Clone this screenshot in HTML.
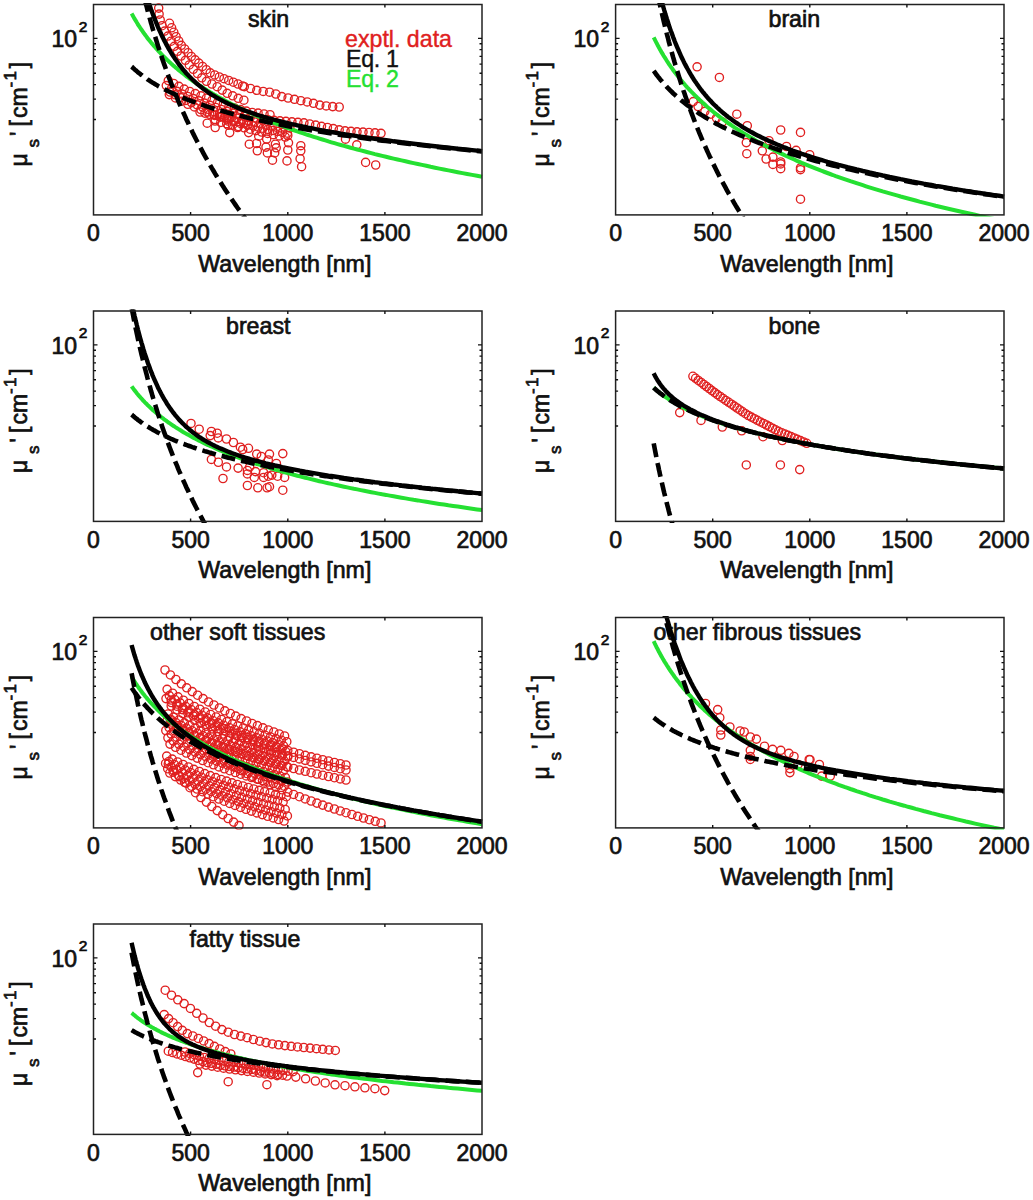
<!DOCTYPE html>
<html><head><meta charset="utf-8"><style>
html,body{margin:0;padding:0;background:#fff;}
svg{display:block;}
text{stroke:#111;stroke-width:0.7px;}
.t{font-family:"Liberation Sans", sans-serif;font-size:23px;fill:#111;}
.xl{font-family:"Liberation Sans", sans-serif;font-size:23.2px;fill:#111;}
.yl{font-family:"Liberation Sans", sans-serif;font-size:25px;fill:#111;}
.s{font-family:"Liberation Sans", sans-serif;font-size:17px;}
</style></head><body>
<svg width="1033" height="1200" viewBox="0 0 1033 1200">
<defs><clipPath id="c00"><rect x="92.5" y="3.0" width="390.5" height="213.4"/></clipPath><clipPath id="c01"><rect x="614.6" y="3.0" width="390.4" height="213.4"/></clipPath><clipPath id="c10"><rect x="92.5" y="309.5" width="390.5" height="213.39999999999998"/></clipPath><clipPath id="c11"><rect x="614.6" y="309.5" width="390.4" height="213.39999999999998"/></clipPath><clipPath id="c20"><rect x="92.5" y="616.0" width="390.5" height="213.39999999999998"/></clipPath><clipPath id="c21"><rect x="614.6" y="616.0" width="390.4" height="213.39999999999998"/></clipPath><clipPath id="c30"><rect x="92.5" y="922.5" width="390.5" height="213.4000000000001"/></clipPath></defs>
<rect width="1033" height="1200" fill="#fff"/>
<text x="248.0" y="27.1" class="xl">skin</text>
<g clip-path="url(#c00)">
<g fill="none" stroke="#e02020" stroke-width="1.35"><circle cx="169.5" cy="23.3" r="4.1"/><circle cx="171.6" cy="27.8" r="4.1"/><circle cx="173.8" cy="32.3" r="4.1"/><circle cx="176.1" cy="36.7" r="4.1"/><circle cx="178.7" cy="41.0" r="4.1"/><circle cx="181.3" cy="45.3" r="4.1"/><circle cx="184.6" cy="49.0" r="4.1"/><circle cx="188.0" cy="52.7" r="4.1"/><circle cx="191.3" cy="56.4" r="4.1"/><circle cx="195.1" cy="59.8" r="4.1"/><circle cx="198.8" cy="63.1" r="4.1"/><circle cx="202.5" cy="66.4" r="4.1"/><circle cx="206.3" cy="69.7" r="4.1"/><circle cx="210.2" cy="72.8" r="4.1"/><circle cx="214.7" cy="74.9" r="4.1"/><circle cx="219.3" cy="76.9" r="4.1"/><circle cx="224.0" cy="78.7" r="4.1"/><circle cx="228.7" cy="80.4" r="4.1"/><circle cx="233.3" cy="82.2" r="4.1"/><circle cx="238.0" cy="84.0" r="4.1"/><circle cx="242.6" cy="86.0" r="4.1"/><circle cx="244.3" cy="86.7" r="4.1"/><circle cx="250.5" cy="88.5" r="4.1"/><circle cx="256.8" cy="90.3" r="4.1"/><circle cx="263.2" cy="91.4" r="4.1"/><circle cx="269.6" cy="92.2" r="4.1"/><circle cx="275.8" cy="94.0" r="4.1"/><circle cx="281.8" cy="96.6" r="4.1"/><circle cx="288.1" cy="98.0" r="4.1"/><circle cx="294.5" cy="99.3" r="4.1"/><circle cx="300.8" cy="100.7" r="4.1"/><circle cx="307.2" cy="101.9" r="4.1"/><circle cx="313.5" cy="103.3" r="4.1"/><circle cx="319.8" cy="105.1" r="4.1"/><circle cx="326.2" cy="105.9" r="4.1"/><circle cx="332.7" cy="106.6" r="4.1"/><circle cx="339.2" cy="107.0" r="4.1"/><circle cx="158.7" cy="8.1" r="4.1"/><circle cx="159.1" cy="14.1" r="4.1"/><circle cx="160.2" cy="20.0" r="4.1"/><circle cx="162.1" cy="25.7" r="4.1"/><circle cx="164.6" cy="31.1" r="4.1"/><circle cx="167.9" cy="36.1" r="4.1"/><circle cx="171.1" cy="41.2" r="4.1"/><circle cx="174.3" cy="46.3" r="4.1"/><circle cx="177.5" cy="51.3" r="4.1"/><circle cx="181.1" cy="56.0" r="4.1"/><circle cx="185.4" cy="60.3" r="4.1"/><circle cx="189.3" cy="64.9" r="4.1"/><circle cx="193.3" cy="69.3" r="4.1"/><circle cx="197.5" cy="73.5" r="4.1"/><circle cx="201.8" cy="77.8" r="4.1"/><circle cx="206.5" cy="81.3" r="4.1"/><circle cx="211.9" cy="84.0" r="4.1"/><circle cx="217.2" cy="86.7" r="4.1"/><circle cx="222.2" cy="90.1" r="4.1"/><circle cx="227.2" cy="93.3" r="4.1"/><circle cx="232.7" cy="95.8" r="4.1"/><circle cx="238.2" cy="98.3" r="4.1"/><circle cx="243.9" cy="100.2" r="4.1"/><circle cx="166.3" cy="85.6" r="4.1"/><circle cx="171.6" cy="88.4" r="4.1"/><circle cx="176.9" cy="91.3" r="4.1"/><circle cx="182.2" cy="94.1" r="4.1"/><circle cx="187.7" cy="96.4" r="4.1"/><circle cx="193.3" cy="98.6" r="4.1"/><circle cx="198.9" cy="100.8" r="4.1"/><circle cx="204.4" cy="103.1" r="4.1"/><circle cx="210.0" cy="105.3" r="4.1"/><circle cx="215.6" cy="107.5" r="4.1"/><circle cx="221.3" cy="109.4" r="4.1"/><circle cx="227.0" cy="111.3" r="4.1"/><circle cx="232.7" cy="113.1" r="4.1"/><circle cx="238.5" cy="114.6" r="4.1"/><circle cx="244.3" cy="116.1" r="4.1"/><circle cx="250.2" cy="117.4" r="4.1"/><circle cx="256.1" cy="118.1" r="4.1"/><circle cx="262.0" cy="118.9" r="4.1"/><circle cx="268.0" cy="119.7" r="4.1"/><circle cx="274.0" cy="120.3" r="4.1"/><circle cx="279.9" cy="120.8" r="4.1"/><circle cx="285.9" cy="121.3" r="4.1"/><circle cx="291.9" cy="121.8" r="4.1"/><circle cx="297.9" cy="122.3" r="4.1"/><circle cx="303.9" cy="122.8" r="4.1"/><circle cx="309.7" cy="123.9" r="4.1"/><circle cx="315.6" cy="125.1" r="4.1"/><circle cx="321.5" cy="126.3" r="4.1"/><circle cx="327.4" cy="127.4" r="4.1"/><circle cx="333.3" cy="128.6" r="4.1"/><circle cx="339.2" cy="129.8" r="4.1"/><circle cx="345.1" cy="130.9" r="4.1"/><circle cx="351.0" cy="131.4" r="4.1"/><circle cx="357.0" cy="131.8" r="4.1"/><circle cx="363.0" cy="132.1" r="4.1"/><circle cx="369.0" cy="132.5" r="4.1"/><circle cx="375.0" cy="132.9" r="4.1"/><circle cx="381.0" cy="133.3" r="4.1"/><circle cx="170.0" cy="92.0" r="4.1"/><circle cx="175.3" cy="94.8" r="4.1"/><circle cx="180.6" cy="97.6" r="4.1"/><circle cx="185.9" cy="100.4" r="4.1"/><circle cx="191.5" cy="102.6" r="4.1"/><circle cx="197.1" cy="104.8" r="4.1"/><circle cx="202.6" cy="107.1" r="4.1"/><circle cx="208.2" cy="109.3" r="4.1"/><circle cx="213.8" cy="111.5" r="4.1"/><circle cx="219.5" cy="113.3" r="4.1"/><circle cx="225.3" cy="115.0" r="4.1"/><circle cx="231.0" cy="116.7" r="4.1"/><circle cx="236.9" cy="118.1" r="4.1"/><circle cx="242.7" cy="119.4" r="4.1"/><circle cx="248.6" cy="120.7" r="4.1"/><circle cx="254.4" cy="121.9" r="4.1"/><circle cx="260.3" cy="123.1" r="4.1"/><circle cx="266.2" cy="124.2" r="4.1"/><circle cx="272.1" cy="125.3" r="4.1"/><circle cx="278.0" cy="126.2" r="4.1"/><circle cx="284.0" cy="127.1" r="4.1"/><circle cx="289.9" cy="128.0" r="4.1"/><circle cx="168.3" cy="80.6" r="4.1"/><circle cx="173.6" cy="83.4" r="4.1"/><circle cx="178.9" cy="86.3" r="4.1"/><circle cx="184.2" cy="89.1" r="4.1"/><circle cx="189.7" cy="91.4" r="4.1"/><circle cx="195.3" cy="93.6" r="4.1"/><circle cx="200.9" cy="95.8" r="4.1"/><circle cx="206.4" cy="98.1" r="4.1"/><circle cx="212.0" cy="100.3" r="4.1"/><circle cx="217.6" cy="102.5" r="4.1"/><circle cx="223.3" cy="104.4" r="4.1"/><circle cx="229.0" cy="106.3" r="4.1"/><circle cx="234.7" cy="108.1" r="4.1"/><circle cx="240.5" cy="109.6" r="4.1"/><circle cx="246.3" cy="111.1" r="4.1"/><circle cx="252.2" cy="112.4" r="4.1"/><circle cx="258.1" cy="113.1" r="4.1"/><circle cx="264.0" cy="113.9" r="4.1"/><circle cx="270.0" cy="114.7" r="4.1"/><circle cx="169.3" cy="94.6" r="4.1"/><circle cx="175.5" cy="97.9" r="4.1"/><circle cx="181.6" cy="101.2" r="4.1"/><circle cx="187.9" cy="104.3" r="4.1"/><circle cx="194.4" cy="106.9" r="4.1"/><circle cx="200.9" cy="109.5" r="4.1"/><circle cx="207.4" cy="112.1" r="4.1"/><circle cx="213.9" cy="114.7" r="4.1"/><circle cx="220.5" cy="117.1" r="4.1"/><circle cx="227.1" cy="119.3" r="4.1"/><circle cx="233.8" cy="121.5" r="4.1"/><circle cx="240.5" cy="123.4" r="4.1"/><circle cx="247.3" cy="125.1" r="4.1"/><circle cx="200.0" cy="112.0" r="4.1"/><circle cx="204.9" cy="113.1" r="4.1"/><circle cx="209.7" cy="114.3" r="4.1"/><circle cx="214.6" cy="115.4" r="4.1"/><circle cx="219.5" cy="116.5" r="4.1"/><circle cx="224.3" cy="117.7" r="4.1"/><circle cx="229.2" cy="118.8" r="4.1"/><circle cx="234.0" cy="120.2" r="4.1"/><circle cx="238.8" cy="121.6" r="4.1"/><circle cx="243.6" cy="123.1" r="4.1"/><circle cx="248.4" cy="124.5" r="4.1"/><circle cx="253.2" cy="125.8" r="4.1"/><circle cx="258.1" cy="127.0" r="4.1"/><circle cx="262.9" cy="128.2" r="4.1"/><circle cx="267.8" cy="129.4" r="4.1"/><circle cx="272.7" cy="130.5" r="4.1"/><circle cx="277.6" cy="131.4" r="4.1"/><circle cx="282.5" cy="132.3" r="4.1"/><circle cx="287.4" cy="133.2" r="4.1"/><circle cx="215.0" cy="121.0" r="4.1"/><circle cx="220.8" cy="122.4" r="4.1"/><circle cx="226.7" cy="123.7" r="4.1"/><circle cx="232.5" cy="125.1" r="4.1"/><circle cx="238.4" cy="126.5" r="4.1"/><circle cx="244.2" cy="127.8" r="4.1"/><circle cx="250.1" cy="129.2" r="4.1"/><circle cx="255.9" cy="130.6" r="4.1"/><circle cx="261.7" cy="132.0" r="4.1"/><circle cx="267.6" cy="133.4" r="4.1"/><circle cx="273.4" cy="134.7" r="4.1"/><circle cx="279.3" cy="135.9" r="4.1"/><circle cx="285.2" cy="137.0" r="4.1"/><circle cx="207.2" cy="123.2" r="4.1"/><circle cx="215.2" cy="119.5" r="4.1"/><circle cx="215.2" cy="127.5" r="4.1"/><circle cx="228.2" cy="121.0" r="4.1"/><circle cx="228.2" cy="125.3" r="4.1"/><circle cx="229.7" cy="132.6" r="4.1"/><circle cx="237.7" cy="127.5" r="4.1"/><circle cx="248.6" cy="132.6" r="4.1"/><circle cx="249.3" cy="144.2" r="4.1"/><circle cx="258.7" cy="136.2" r="4.1"/><circle cx="256.6" cy="143.5" r="4.1"/><circle cx="257.3" cy="150.8" r="4.1"/><circle cx="266.7" cy="139.1" r="4.1"/><circle cx="266.0" cy="147.1" r="4.1"/><circle cx="267.4" cy="152.9" r="4.1"/><circle cx="275.4" cy="144.2" r="4.1"/><circle cx="276.2" cy="147.8" r="4.1"/><circle cx="274.7" cy="152.9" r="4.1"/><circle cx="272.5" cy="160.2" r="4.1"/><circle cx="287.8" cy="135.5" r="4.1"/><circle cx="288.5" cy="142.8" r="4.1"/><circle cx="287.8" cy="150.0" r="4.1"/><circle cx="287.0" cy="160.9" r="4.1"/><circle cx="300.8" cy="145.7" r="4.1"/><circle cx="300.8" cy="150.8" r="4.1"/><circle cx="300.1" cy="158.7" r="4.1"/><circle cx="301.6" cy="166.7" r="4.1"/><circle cx="345.5" cy="139.2" r="4.1"/><circle cx="356.8" cy="144.8" r="4.1"/><circle cx="365.6" cy="162.4" r="4.1"/><circle cx="375.7" cy="165.0" r="4.1"/></g>
<path d="M131.6 13.5 L132.1 14.4 L132.6 15.3 L133.1 16.2 L133.6 17.1 L134.1 18.0 L134.6 18.9 L135.2 19.8 L135.7 20.7 L136.3 21.6 L136.8 22.5 L137.4 23.4 L137.9 24.4 L138.5 25.3 L139.1 26.2 L139.7 27.1 L140.3 28.0 L140.9 28.9 L141.5 29.8 L142.2 30.7 L142.8 31.6 L143.4 32.5 L144.1 33.4 L144.7 34.3 L145.4 35.2 L146.1 36.1 L146.8 37.1 L147.4 38.0 L148.1 38.9 L148.9 39.8 L149.6 40.7 L150.3 41.6 L151.0 42.5 L151.8 43.4 L152.5 44.3 L153.3 45.2 L154.1 46.1 L154.9 47.0 L155.7 47.9 L156.5 48.8 L157.3 49.8 L158.1 50.7 L159.0 51.6 L159.8 52.5 L160.7 53.4 L161.5 54.3 L162.4 55.2 L163.3 56.1 L164.2 57.0 L165.2 57.9 L166.1 58.8 L167.0 59.7 L168.0 60.6 L168.9 61.5 L169.9 62.4 L170.9 63.4 L171.9 64.3 L172.9 65.2 L174.0 66.1 L175.0 67.0 L176.1 67.9 L177.2 68.8 L178.2 69.7 L179.3 70.6 L180.5 71.5 L181.6 72.4 L182.7 73.3 L183.9 74.2 L185.1 75.1 L186.2 76.1 L187.5 77.0 L188.7 77.9 L189.9 78.8 L191.2 79.7 L192.4 80.6 L193.7 81.5 L195.0 82.4 L196.3 83.3 L197.7 84.2 L199.0 85.1 L200.4 86.0 L201.8 86.9 L203.2 87.8 L204.6 88.8 L206.1 89.7 L207.5 90.6 L209.0 91.5 L210.5 92.4 L212.0 93.3 L213.6 94.2 L215.1 95.1 L216.7 96.0 L218.3 96.9 L219.9 97.8 L221.6 98.7 L223.2 99.6 L224.9 100.5 L226.6 101.4 L228.3 102.4 L230.1 103.3 L231.9 104.2 L233.7 105.1 L235.5 106.0 L237.3 106.9 L239.2 107.8 L241.1 108.7 L243.0 109.6 L245.0 110.5 L246.9 111.4 L248.9 112.3 L250.9 113.2 L253.0 114.1 L255.0 115.1 L257.1 116.0 L259.3 116.9 L261.4 117.8 L263.6 118.7 L265.8 119.6 L268.1 120.5 L270.3 121.4 L272.6 122.3 L274.9 123.2 L277.3 124.1 L279.7 125.0 L282.1 125.9 L284.6 126.8 L287.0 127.8 L289.5 128.7 L292.1 129.6 L294.7 130.5 L297.3 131.4 L299.9 132.3 L302.6 133.2 L305.3 134.1 L308.1 135.0 L310.9 135.9 L313.7 136.8 L316.6 137.7 L319.4 138.6 L322.4 139.5 L325.4 140.4 L328.4 141.4 L331.4 142.3 L334.5 143.2 L337.6 144.1 L340.8 145.0 L344.0 145.9 L347.3 146.8 L350.6 147.7 L353.9 148.6 L357.3 149.5 L360.7 150.4 L364.2 151.3 L367.7 152.2 L371.3 153.1 L374.9 154.1 L378.5 155.0 L382.2 155.9 L386.0 156.8 L389.8 157.7 L393.6 158.6 L397.5 159.5 L401.5 160.4 L405.5 161.3 L409.5 162.2 L413.6 163.1 L417.8 164.0 L422.0 164.9 L426.3 165.8 L430.6 166.8 L435.0 167.7 L439.4 168.6 L443.9 169.5 L448.4 170.4 L453.1 171.3 L457.7 172.2 L462.5 173.1 L467.2 174.0 L472.1 174.9 L477.0 175.8 L482.0 176.7" fill="none" stroke="#25e032" stroke-width="4"/>
<path d="M131.6 -64.3 L132.1 -61.9 L132.6 -59.4 L133.1 -57.0 L133.6 -54.6 L134.1 -52.2 L134.6 -49.8 L135.2 -47.4 L135.7 -45.0 L136.3 -42.6 L136.8 -40.2 L137.4 -37.9 L137.9 -35.5 L138.5 -33.2 L139.1 -30.8 L139.7 -28.5 L140.3 -26.2 L140.9 -23.9 L141.5 -21.6 L142.2 -19.3 L142.8 -17.0 L143.4 -14.8 L144.1 -12.5 L144.7 -10.3 L145.4 -8.1 L146.1 -5.9 L146.8 -3.7 L147.4 -1.5 L148.1 0.7 L148.9 2.8 L149.6 5.0 L150.3 7.1 L151.0 9.2 L151.8 11.3 L152.5 13.3 L153.3 15.4 L154.1 17.4 L154.9 19.4 L155.7 21.4 L156.5 23.4 L157.3 25.4 L158.1 27.3 L159.0 29.3 L159.8 31.2 L160.7 33.0 L161.5 34.9 L162.4 36.8 L163.3 38.6 L164.2 40.4 L165.2 42.2 L166.1 43.9 L167.0 45.7 L168.0 47.4 L168.9 49.1 L169.9 50.7 L170.9 52.4 L171.9 54.0 L172.9 55.6 L174.0 57.2 L175.0 58.8 L176.1 60.3 L177.2 61.8 L178.2 63.3 L179.3 64.8 L180.5 66.2 L181.6 67.7 L182.7 69.1 L183.9 70.5 L185.1 71.8 L186.2 73.2 L187.5 74.5 L188.7 75.8 L189.9 77.0 L191.2 78.3 L192.4 79.5 L193.7 80.7 L195.0 81.9 L196.3 83.1 L197.7 84.3 L199.0 85.4 L200.4 86.5 L201.8 87.6 L203.2 88.7 L204.6 89.7 L206.1 90.8 L207.5 91.8 L209.0 92.8 L210.5 93.8 L212.0 94.8 L213.6 95.7 L215.1 96.7 L216.7 97.6 L218.3 98.5 L219.9 99.4 L221.6 100.3 L223.2 101.1 L224.9 102.0 L226.6 102.8 L228.3 103.7 L230.1 104.5 L231.9 105.3 L233.7 106.1 L235.5 106.9 L237.3 107.6 L239.2 108.4 L241.1 109.1 L243.0 109.9 L245.0 110.6 L246.9 111.3 L248.9 112.0 L250.9 112.7 L253.0 113.4 L255.0 114.1 L257.1 114.8 L259.3 115.5 L261.4 116.1 L263.6 116.8 L265.8 117.4 L268.1 118.1 L270.3 118.7 L272.6 119.3 L274.9 120.0 L277.3 120.6 L279.7 121.2 L282.1 121.8 L284.6 122.4 L287.0 123.0 L289.5 123.6 L292.1 124.2 L294.7 124.7 L297.3 125.3 L299.9 125.9 L302.6 126.5 L305.3 127.0 L308.1 127.6 L310.9 128.1 L313.7 128.7 L316.6 129.3 L319.4 129.8 L322.4 130.3 L325.4 130.9 L328.4 131.4 L331.4 132.0 L334.5 132.5 L337.6 133.0 L340.8 133.6 L344.0 134.1 L347.3 134.6 L350.6 135.1 L353.9 135.6 L357.3 136.2 L360.7 136.7 L364.2 137.2 L367.7 137.7 L371.3 138.2 L374.9 138.7 L378.5 139.2 L382.2 139.7 L386.0 140.2 L389.8 140.7 L393.6 141.3 L397.5 141.8 L401.5 142.3 L405.5 142.7 L409.5 143.2 L413.6 143.7 L417.8 144.2 L422.0 144.7 L426.3 145.2 L430.6 145.7 L435.0 146.2 L439.4 146.7 L443.9 147.2 L448.4 147.7 L453.1 148.2 L457.7 148.7 L462.5 149.1 L467.2 149.6 L472.1 150.1 L477.0 150.6 L482.0 151.1" fill="none" stroke="#000" stroke-width="4.4"/>
<path d="M131.6 66.6 L132.1 67.0 L132.6 67.5 L133.1 68.0 L133.6 68.4 L134.1 68.9 L134.6 69.4 L135.2 69.9 L135.7 70.3 L136.3 70.8 L136.8 71.3 L137.4 71.7 L137.9 72.2 L138.5 72.7 L139.1 73.2 L139.7 73.6 L140.3 74.1 L140.9 74.6 L141.5 75.0 L142.2 75.5 L142.8 76.0 L143.4 76.5 L144.1 76.9 L144.7 77.4 L145.4 77.9 L146.1 78.3 L146.8 78.8 L147.4 79.3 L148.1 79.8 L148.9 80.2 L149.6 80.7 L150.3 81.2 L151.0 81.6 L151.8 82.1 L152.5 82.6 L153.3 83.1 L154.1 83.5 L154.9 84.0 L155.7 84.5 L156.5 84.9 L157.3 85.4 L158.1 85.9 L159.0 86.4 L159.8 86.8 L160.7 87.3 L161.5 87.8 L162.4 88.2 L163.3 88.7 L164.2 89.2 L165.2 89.7 L166.1 90.1 L167.0 90.6 L168.0 91.1 L168.9 91.5 L169.9 92.0 L170.9 92.5 L171.9 93.0 L172.9 93.4 L174.0 93.9 L175.0 94.4 L176.1 94.8 L177.2 95.3 L178.2 95.8 L179.3 96.3 L180.5 96.7 L181.6 97.2 L182.7 97.7 L183.9 98.1 L185.1 98.6 L186.2 99.1 L187.5 99.6 L188.7 100.0 L189.9 100.5 L191.2 101.0 L192.4 101.4 L193.7 101.9 L195.0 102.4 L196.3 102.9 L197.7 103.3 L199.0 103.8 L200.4 104.3 L201.8 104.7 L203.2 105.2 L204.6 105.7 L206.1 106.2 L207.5 106.6 L209.0 107.1 L210.5 107.6 L212.0 108.0 L213.6 108.5 L215.1 109.0 L216.7 109.5 L218.3 109.9 L219.9 110.4 L221.6 110.9 L223.2 111.3 L224.9 111.8 L226.6 112.3 L228.3 112.7 L230.1 113.2 L231.9 113.7 L233.7 114.2 L235.5 114.6 L237.3 115.1 L239.2 115.6 L241.1 116.0 L243.0 116.5 L245.0 117.0 L246.9 117.5 L248.9 117.9 L250.9 118.4 L253.0 118.9 L255.0 119.3 L257.1 119.8 L259.3 120.3 L261.4 120.8 L263.6 121.2 L265.8 121.7 L268.1 122.2 L270.3 122.6 L272.6 123.1 L274.9 123.6 L277.3 124.1 L279.7 124.5 L282.1 125.0 L284.6 125.5 L287.0 125.9 L289.5 126.4 L292.1 126.9 L294.7 127.4 L297.3 127.8 L299.9 128.3 L302.6 128.8 L305.3 129.2 L308.1 129.7 L310.9 130.2 L313.7 130.7 L316.6 131.1 L319.4 131.6 L322.4 132.1 L325.4 132.5 L328.4 133.0 L331.4 133.5 L334.5 134.0 L337.6 134.4 L340.8 134.9 L344.0 135.4 L347.3 135.8 L350.6 136.3 L353.9 136.8 L357.3 137.3 L360.7 137.7 L364.2 138.2 L367.7 138.7 L371.3 139.1 L374.9 139.6 L378.5 140.1 L382.2 140.6 L386.0 141.0 L389.8 141.5 L393.6 142.0 L397.5 142.4 L401.5 142.9 L405.5 143.4 L409.5 143.9 L413.6 144.3 L417.8 144.8 L422.0 145.3 L426.3 145.7 L430.6 146.2 L435.0 146.7 L439.4 147.2 L443.9 147.6 L448.4 148.1 L453.1 148.6 L457.7 149.0 L462.5 149.5 L467.2 150.0 L472.1 150.5 L477.0 150.9 L482.0 151.4" fill="none" stroke="#000" stroke-width="4.6" stroke-dasharray="14 6"/>
<path d="M131.6 -60.4 L132.1 -57.8 L132.6 -55.2 L133.1 -52.6 L133.6 -50.0 L134.1 -47.4 L134.6 -44.8 L135.2 -42.2 L135.7 -39.6 L136.3 -37.0 L136.8 -34.4 L137.4 -31.8 L137.9 -29.2 L138.5 -26.6 L139.1 -24.0 L139.7 -21.4 L140.3 -18.8 L140.9 -16.2 L141.5 -13.6 L142.2 -11.0 L142.8 -8.4 L143.4 -5.8 L144.1 -3.2 L144.7 -0.6 L145.4 2.0 L146.1 4.6 L146.8 7.2 L147.4 9.8 L148.1 12.4 L148.9 15.0 L149.6 17.6 L150.3 20.2 L151.0 22.8 L151.8 25.4 L152.5 28.0 L153.3 30.6 L154.1 33.2 L154.9 35.8 L155.7 38.4 L156.5 41.0 L157.3 43.6 L158.1 46.2 L159.0 48.8 L159.8 51.4 L160.7 54.0 L161.5 56.6 L162.4 59.2 L163.3 61.8 L164.2 64.4 L165.2 67.0 L166.1 69.6 L167.0 72.2 L168.0 74.8 L168.9 77.4 L169.9 80.0 L170.9 82.6 L171.9 85.2 L172.9 87.8 L174.0 90.4 L175.0 93.0 L176.1 95.6 L177.2 98.2 L178.2 100.8 L179.3 103.4 L180.5 106.0 L181.6 108.6 L182.7 111.2 L183.9 113.8 L185.1 116.4 L186.2 119.0 L187.5 121.6 L188.7 124.2 L189.9 126.8 L191.2 129.4 L192.4 132.0 L193.7 134.6 L195.0 137.2 L196.3 139.8 L197.7 142.4 L199.0 145.0 L200.4 147.6 L201.8 150.2 L203.2 152.8 L204.6 155.4 L206.1 158.0 L207.5 160.6 L209.0 163.2 L210.5 165.8 L212.0 168.4 L213.6 171.0 L215.1 173.6 L216.7 176.2 L218.3 178.8 L219.9 181.4 L221.6 184.0 L223.2 186.6 L224.9 189.2 L226.6 191.8 L228.3 194.4 L230.1 197.0 L231.9 199.6 L233.7 202.2 L235.5 204.9 L237.3 207.5 L239.2 210.1 L241.1 212.7 L243.0 215.3 L245.0 217.9 L246.9 220.5 L248.9 223.1 L250.9 225.7 L253.0 228.3 L255.0 230.9 L257.1 233.5 L259.3 236.1 L261.4 238.7 L263.6 241.3 L265.8 243.9 L268.1 246.5 L270.3 249.1 L272.6 251.7 L274.9 254.3 L277.3 256.9 L279.7 259.5 L282.1 262.1 L284.6 264.7 L287.0 267.3 L289.5 269.9 L292.1 272.5 L294.7 275.1 L297.3 277.7 L299.9 280.3 L302.6 282.9 L305.3 285.5 L308.1 288.1 L310.9 290.7 L313.7 293.3 L316.6 295.9 L319.4 298.5 L322.4 301.1 L325.4 303.7 L328.4 306.3 L331.4 308.9 L334.5 311.5 L337.6 314.1 L340.8 316.7 L344.0 319.3 L347.3 321.9 L350.6 324.5 L353.9 327.1 L357.3 329.7 L360.7 332.3 L364.2 334.9 L367.7 337.5 L371.3 340.1 L374.9 342.7 L378.5 345.3 L382.2 347.9 L386.0 350.5 L389.8 353.1 L393.6 355.7 L397.5 358.3 L401.5 360.9 L405.5 363.5 L409.5 366.1 L413.6 368.7 L417.8 371.3 L422.0 373.9 L426.3 376.5 L430.6 379.1 L435.0 381.7 L439.4 384.3 L443.9 386.9 L448.4 389.5 L453.1 392.1 L457.7 394.7 L462.5 397.3 L467.2 399.9 L472.1 402.5 L477.0 405.1 L482.0 407.7" fill="none" stroke="#000" stroke-width="4.6" stroke-dasharray="14 6"/>
</g>
<rect x="93.5" y="4.5" width="388.5" height="210.4" fill="none" stroke="#222" stroke-width="1.5"/>
<path d="M190.6 214.9v-3M190.6 4.5v3" stroke="#111" stroke-width="1.4"/>
<path d="M287.8 214.9v-3M287.8 4.5v3" stroke="#111" stroke-width="1.4"/>
<path d="M384.9 214.9v-3M384.9 4.5v3" stroke="#111" stroke-width="1.4"/>
<path d="M93.5 38.4h4M482.0 38.4h-4" stroke="#111" stroke-width="1.4"/>
<path d="M93.5 43.7h2.5M482.0 43.7h-2.5" stroke="#111" stroke-width="1.4"/>
<path d="M93.5 49.6h2.5M482.0 49.6h-2.5" stroke="#111" stroke-width="1.4"/>
<path d="M93.5 56.4h2.5M482.0 56.4h-2.5" stroke="#111" stroke-width="1.4"/>
<path d="M93.5 64.1h2.5M482.0 64.1h-2.5" stroke="#111" stroke-width="1.4"/>
<path d="M93.5 73.3h2.5M482.0 73.3h-2.5" stroke="#111" stroke-width="1.4"/>
<path d="M93.5 84.6h2.5M482.0 84.6h-2.5" stroke="#111" stroke-width="1.4"/>
<path d="M93.5 99.1h2.5M482.0 99.1h-2.5" stroke="#111" stroke-width="1.4"/>
<path d="M93.5 119.5h2.5M482.0 119.5h-2.5" stroke="#111" stroke-width="1.4"/>
<text x="93.5" y="241.4" text-anchor="middle" class="t">0</text>
<text x="190.6" y="241.4" text-anchor="middle" class="t">500</text>
<text x="287.8" y="241.4" text-anchor="middle" class="t">1000</text>
<text x="384.9" y="241.4" text-anchor="middle" class="t">1500</text>
<text x="482.0" y="241.4" text-anchor="middle" class="t">2000</text>
<text x="77.0" y="47.2" text-anchor="end" class="t">10</text>
<text x="87.3" y="31.6" text-anchor="end" class="s" style="font-size:15.5px">2</text>
<text x="284.8" y="271.5" text-anchor="middle" class="xl">Wavelength [nm]</text>
<g transform="translate(27.0,165.0) rotate(-90)"><text x="-1.6" y="0" style="font-size:23px" class="yl">μ</text><text x="17.5" y="12" style="font-size:17px" class="yl">s</text><text x="29" y="0" style="font-size:23px" class="yl">'</text><text x="38.6" y="0" style="font-size:23px" class="yl">[</text><text x="47" y="0" style="font-size:23px" class="yl">cm</text><text x="77.6" y="-11.5" style="font-size:17px" class="yl">-</text><text x="84.5" y="-11.5" style="font-size:17px" class="yl">1</text><text x="96.8" y="0" style="font-size:23px" class="yl">]</text></g>
<text x="768.5" y="27.1" class="xl">brain</text>
<g clip-path="url(#c01)">
<g fill="none" stroke="#e02020" stroke-width="1.35"><circle cx="697.1" cy="66.8" r="4.1"/><circle cx="719.4" cy="77.4" r="4.1"/><circle cx="693.3" cy="101.6" r="4.1"/><circle cx="698.1" cy="106.5" r="4.1"/><circle cx="704.9" cy="111.3" r="4.1"/><circle cx="710.7" cy="114.2" r="4.1"/><circle cx="716.5" cy="118.1" r="4.1"/><circle cx="722.3" cy="122.0" r="4.1"/><circle cx="736.8" cy="114.2" r="4.1"/><circle cx="747.3" cy="125.7" r="4.1"/><circle cx="746.3" cy="142.6" r="4.1"/><circle cx="746.8" cy="153.7" r="4.1"/><circle cx="780.7" cy="130.0" r="4.1"/><circle cx="800.5" cy="132.4" r="4.1"/><circle cx="762.3" cy="150.8" r="4.1"/><circle cx="766.1" cy="159.0" r="4.1"/><circle cx="772.9" cy="157.1" r="4.1"/><circle cx="772.9" cy="164.4" r="4.1"/><circle cx="780.7" cy="162.0" r="4.1"/><circle cx="780.7" cy="163.9" r="4.1"/><circle cx="780.7" cy="168.7" r="4.1"/><circle cx="800.5" cy="167.8" r="4.1"/><circle cx="800.5" cy="169.7" r="4.1"/><circle cx="800.5" cy="199.2" r="4.1"/><circle cx="769.0" cy="140.7" r="4.1"/><circle cx="786.5" cy="146.5" r="4.1"/><circle cx="796.1" cy="150.3" r="4.1"/><circle cx="809.7" cy="154.7" r="4.1"/></g>
<path d="M653.7 37.3 L654.2 38.3 L654.7 39.3 L655.2 40.4 L655.7 41.4 L656.2 42.4 L656.7 43.4 L657.3 44.4 L657.8 45.5 L658.4 46.5 L658.9 47.5 L659.5 48.5 L660.0 49.5 L660.6 50.6 L661.2 51.6 L661.8 52.6 L662.4 53.6 L663.0 54.6 L663.6 55.7 L664.2 56.7 L664.9 57.7 L665.5 58.7 L666.2 59.7 L666.8 60.8 L667.5 61.8 L668.2 62.8 L668.8 63.8 L669.5 64.8 L670.2 65.9 L670.9 66.9 L671.7 67.9 L672.4 68.9 L673.1 70.0 L673.9 71.0 L674.6 72.0 L675.4 73.0 L676.2 74.0 L677.0 75.1 L677.8 76.1 L678.6 77.1 L679.4 78.1 L680.2 79.1 L681.0 80.2 L681.9 81.2 L682.8 82.2 L683.6 83.2 L684.5 84.2 L685.4 85.3 L686.3 86.3 L687.2 87.3 L688.2 88.3 L689.1 89.3 L690.1 90.4 L691.0 91.4 L692.0 92.4 L693.0 93.4 L694.0 94.4 L695.0 95.5 L696.1 96.5 L697.1 97.5 L698.2 98.5 L699.2 99.5 L700.3 100.6 L701.4 101.6 L702.5 102.6 L703.7 103.6 L704.8 104.6 L706.0 105.7 L707.1 106.7 L708.3 107.7 L709.5 108.7 L710.8 109.7 L712.0 110.8 L713.2 111.8 L714.5 112.8 L715.8 113.8 L717.1 114.8 L718.4 115.9 L719.7 116.9 L721.1 117.9 L722.5 118.9 L723.9 119.9 L725.3 121.0 L726.7 122.0 L728.1 123.0 L729.6 124.0 L731.1 125.0 L732.6 126.1 L734.1 127.1 L735.6 128.1 L737.2 129.1 L738.8 130.1 L740.4 131.2 L742.0 132.2 L743.6 133.2 L745.3 134.2 L747.0 135.2 L748.7 136.3 L750.4 137.3 L752.2 138.3 L753.9 139.3 L755.7 140.4 L757.6 141.4 L759.4 142.4 L761.3 143.4 L763.2 144.4 L765.1 145.5 L767.0 146.5 L769.0 147.5 L771.0 148.5 L773.0 149.5 L775.0 150.6 L777.1 151.6 L779.2 152.6 L781.3 153.6 L783.5 154.6 L785.7 155.7 L787.9 156.7 L790.1 157.7 L792.4 158.7 L794.7 159.7 L797.0 160.8 L799.4 161.8 L801.7 162.8 L804.2 163.8 L806.6 164.8 L809.1 165.9 L811.6 166.9 L814.1 167.9 L816.7 168.9 L819.3 169.9 L822.0 171.0 L824.7 172.0 L827.4 173.0 L830.1 174.0 L832.9 175.0 L835.7 176.1 L838.6 177.1 L841.5 178.1 L844.4 179.1 L847.4 180.1 L850.4 181.2 L853.5 182.2 L856.5 183.2 L859.7 184.2 L862.8 185.2 L866.1 186.3 L869.3 187.3 L872.6 188.3 L875.9 189.3 L879.3 190.3 L882.7 191.4 L886.2 192.4 L889.7 193.4 L893.3 194.4 L896.9 195.4 L900.6 196.5 L904.3 197.5 L908.0 198.5 L911.8 199.5 L915.6 200.5 L919.5 201.6 L923.5 202.6 L927.5 203.6 L931.5 204.6 L935.6 205.7 L939.8 206.7 L944.0 207.7 L948.3 208.7 L952.6 209.7 L957.0 210.8 L961.4 211.8 L965.9 212.8 L970.5 213.8 L975.1 214.8 L979.7 215.9 L984.5 216.9 L989.3 217.9 L994.1 218.9 L999.0 219.9 L1004.0 221.0" fill="none" stroke="#25e032" stroke-width="4"/>
<path d="M653.7 -32.9 L654.2 -30.6 L654.7 -28.2 L655.2 -25.9 L655.7 -23.6 L656.2 -21.3 L656.7 -18.9 L657.3 -16.6 L657.8 -14.3 L658.4 -12.1 L658.9 -9.8 L659.5 -7.5 L660.0 -5.3 L660.6 -3.0 L661.2 -0.8 L661.8 1.4 L662.4 3.6 L663.0 5.8 L663.6 8.0 L664.2 10.2 L664.9 12.3 L665.5 14.5 L666.2 16.6 L666.8 18.7 L667.5 20.8 L668.2 22.9 L668.8 25.0 L669.5 27.0 L670.2 29.1 L670.9 31.1 L671.7 33.1 L672.4 35.1 L673.1 37.1 L673.9 39.1 L674.6 41.0 L675.4 43.0 L676.2 44.9 L677.0 46.8 L677.8 48.7 L678.6 50.5 L679.4 52.4 L680.2 54.2 L681.0 56.1 L681.9 57.9 L682.8 59.6 L683.6 61.4 L684.5 63.2 L685.4 64.9 L686.3 66.6 L687.2 68.3 L688.2 70.0 L689.1 71.6 L690.1 73.3 L691.0 74.9 L692.0 76.5 L693.0 78.1 L694.0 79.7 L695.0 81.2 L696.1 82.7 L697.1 84.3 L698.2 85.8 L699.2 87.2 L700.3 88.7 L701.4 90.2 L702.5 91.6 L703.7 93.0 L704.8 94.4 L706.0 95.8 L707.1 97.1 L708.3 98.5 L709.5 99.8 L710.8 101.1 L712.0 102.4 L713.2 103.7 L714.5 105.0 L715.8 106.2 L717.1 107.5 L718.4 108.7 L719.7 109.9 L721.1 111.1 L722.5 112.3 L723.9 113.5 L725.3 114.6 L726.7 115.8 L728.1 116.9 L729.6 118.0 L731.1 119.1 L732.6 120.2 L734.1 121.3 L735.6 122.4 L737.2 123.4 L738.8 124.5 L740.4 125.5 L742.0 126.6 L743.6 127.6 L745.3 128.6 L747.0 129.6 L748.7 130.6 L750.4 131.6 L752.2 132.5 L753.9 133.5 L755.7 134.5 L757.6 135.4 L759.4 136.3 L761.3 137.3 L763.2 138.2 L765.1 139.1 L767.0 140.0 L769.0 140.9 L771.0 141.8 L773.0 142.7 L775.0 143.6 L777.1 144.5 L779.2 145.3 L781.3 146.2 L783.5 147.1 L785.7 147.9 L787.9 148.8 L790.1 149.6 L792.4 150.5 L794.7 151.3 L797.0 152.1 L799.4 152.9 L801.7 153.8 L804.2 154.6 L806.6 155.4 L809.1 156.2 L811.6 157.0 L814.1 157.8 L816.7 158.6 L819.3 159.4 L822.0 160.2 L824.7 161.0 L827.4 161.8 L830.1 162.5 L832.9 163.3 L835.7 164.1 L838.6 164.9 L841.5 165.6 L844.4 166.4 L847.4 167.2 L850.4 167.9 L853.5 168.7 L856.5 169.5 L859.7 170.2 L862.8 171.0 L866.1 171.7 L869.3 172.5 L872.6 173.2 L875.9 174.0 L879.3 174.7 L882.7 175.5 L886.2 176.2 L889.7 177.0 L893.3 177.7 L896.9 178.4 L900.6 179.2 L904.3 179.9 L908.0 180.6 L911.8 181.4 L915.6 182.1 L919.5 182.8 L923.5 183.6 L927.5 184.3 L931.5 185.0 L935.6 185.8 L939.8 186.5 L944.0 187.2 L948.3 187.9 L952.6 188.7 L957.0 189.4 L961.4 190.1 L965.9 190.8 L970.5 191.5 L975.1 192.3 L979.7 193.0 L984.5 193.7 L989.3 194.4 L994.1 195.1 L999.0 195.8 L1004.0 196.6" fill="none" stroke="#000" stroke-width="4.4"/>
<path d="M653.7 70.8 L654.2 71.5 L654.7 72.2 L655.2 72.9 L655.7 73.6 L656.2 74.3 L656.7 75.0 L657.3 75.7 L657.8 76.4 L658.4 77.1 L658.9 77.8 L659.5 78.5 L660.0 79.2 L660.6 79.9 L661.2 80.6 L661.8 81.3 L662.4 82.0 L663.0 82.7 L663.6 83.4 L664.2 84.1 L664.9 84.8 L665.5 85.5 L666.2 86.2 L666.8 86.9 L667.5 87.6 L668.2 88.3 L668.8 89.0 L669.5 89.7 L670.2 90.4 L670.9 91.1 L671.7 91.8 L672.4 92.5 L673.1 93.2 L673.9 93.9 L674.6 94.6 L675.4 95.3 L676.2 96.0 L677.0 96.7 L677.8 97.4 L678.6 98.1 L679.4 98.8 L680.2 99.5 L681.0 100.2 L681.9 100.9 L682.8 101.6 L683.6 102.3 L684.5 103.0 L685.4 103.7 L686.3 104.4 L687.2 105.1 L688.2 105.8 L689.1 106.5 L690.1 107.2 L691.0 107.9 L692.0 108.6 L693.0 109.3 L694.0 110.0 L695.0 110.7 L696.1 111.4 L697.1 112.1 L698.2 112.8 L699.2 113.5 L700.3 114.2 L701.4 114.9 L702.5 115.6 L703.7 116.3 L704.8 117.0 L706.0 117.7 L707.1 118.4 L708.3 119.1 L709.5 119.8 L710.8 120.5 L712.0 121.2 L713.2 121.9 L714.5 122.6 L715.8 123.4 L717.1 124.1 L718.4 124.8 L719.7 125.5 L721.1 126.2 L722.5 126.9 L723.9 127.6 L725.3 128.3 L726.7 129.0 L728.1 129.7 L729.6 130.4 L731.1 131.1 L732.6 131.8 L734.1 132.5 L735.6 133.2 L737.2 133.9 L738.8 134.6 L740.4 135.3 L742.0 136.0 L743.6 136.7 L745.3 137.4 L747.0 138.1 L748.7 138.8 L750.4 139.5 L752.2 140.2 L753.9 140.9 L755.7 141.6 L757.6 142.3 L759.4 143.0 L761.3 143.7 L763.2 144.4 L765.1 145.1 L767.0 145.8 L769.0 146.5 L771.0 147.2 L773.0 147.9 L775.0 148.6 L777.1 149.3 L779.2 150.0 L781.3 150.7 L783.5 151.4 L785.7 152.1 L787.9 152.8 L790.1 153.5 L792.4 154.2 L794.7 154.9 L797.0 155.6 L799.4 156.3 L801.7 157.0 L804.2 157.7 L806.6 158.4 L809.1 159.1 L811.6 159.8 L814.1 160.5 L816.7 161.2 L819.3 161.9 L822.0 162.6 L824.7 163.3 L827.4 164.0 L830.1 164.7 L832.9 165.4 L835.7 166.1 L838.6 166.8 L841.5 167.5 L844.4 168.2 L847.4 168.9 L850.4 169.6 L853.5 170.3 L856.5 171.0 L859.7 171.7 L862.8 172.4 L866.1 173.1 L869.3 173.8 L872.6 174.5 L875.9 175.2 L879.3 175.9 L882.7 176.6 L886.2 177.3 L889.7 178.0 L893.3 178.7 L896.9 179.4 L900.6 180.1 L904.3 180.8 L908.0 181.5 L911.8 182.2 L915.6 182.9 L919.5 183.6 L923.5 184.3 L927.5 185.0 L931.5 185.7 L935.6 186.4 L939.8 187.1 L944.0 187.8 L948.3 188.5 L952.6 189.2 L957.0 189.9 L961.4 190.6 L965.9 191.3 L970.5 192.0 L975.1 192.7 L979.7 193.4 L984.5 194.1 L989.3 194.8 L994.1 195.5 L999.0 196.2 L1004.0 196.9" fill="none" stroke="#000" stroke-width="4.6" stroke-dasharray="14 6"/>
<path d="M653.7 -26.1 L654.2 -23.5 L654.7 -20.9 L655.2 -18.3 L655.7 -15.7 L656.2 -13.1 L656.7 -10.5 L657.3 -7.9 L657.8 -5.3 L658.4 -2.7 L658.9 -0.1 L659.5 2.5 L660.0 5.1 L660.6 7.7 L661.2 10.3 L661.8 12.9 L662.4 15.5 L663.0 18.1 L663.6 20.7 L664.2 23.3 L664.9 25.9 L665.5 28.6 L666.2 31.2 L666.8 33.8 L667.5 36.4 L668.2 39.0 L668.8 41.6 L669.5 44.2 L670.2 46.8 L670.9 49.4 L671.7 52.0 L672.4 54.6 L673.1 57.2 L673.9 59.8 L674.6 62.4 L675.4 65.0 L676.2 67.6 L677.0 70.2 L677.8 72.8 L678.6 75.4 L679.4 78.0 L680.2 80.6 L681.0 83.2 L681.9 85.8 L682.8 88.4 L683.6 91.0 L684.5 93.6 L685.4 96.2 L686.3 98.8 L687.2 101.4 L688.2 104.0 L689.1 106.6 L690.1 109.2 L691.0 111.8 L692.0 114.4 L693.0 117.0 L694.0 119.6 L695.0 122.2 L696.1 124.8 L697.1 127.4 L698.2 130.0 L699.2 132.6 L700.3 135.2 L701.4 137.8 L702.5 140.4 L703.7 143.0 L704.8 145.6 L706.0 148.2 L707.1 150.8 L708.3 153.4 L709.5 156.0 L710.8 158.6 L712.0 161.2 L713.2 163.8 L714.5 166.4 L715.8 169.0 L717.1 171.6 L718.4 174.2 L719.7 176.8 L721.1 179.4 L722.5 182.0 L723.9 184.6 L725.3 187.2 L726.7 189.8 L728.1 192.4 L729.6 195.0 L731.1 197.6 L732.6 200.2 L734.1 202.8 L735.6 205.4 L737.2 208.0 L738.8 210.6 L740.4 213.2 L742.0 215.8 L743.6 218.4 L745.3 221.0 L747.0 223.6 L748.7 226.2 L750.4 228.8 L752.2 231.4 L753.9 234.0 L755.7 236.6 L757.6 239.2 L759.4 241.8 L761.3 244.4 L763.2 247.0 L765.1 249.6 L767.0 252.2 L769.0 254.8 L771.0 257.4 L773.0 260.0 L775.0 262.6 L777.1 265.2 L779.2 267.8 L781.3 270.4 L783.5 273.0 L785.7 275.6 L787.9 278.2 L790.1 280.8 L792.4 283.4 L794.7 286.0 L797.0 288.6 L799.4 291.2 L801.7 293.8 L804.2 296.4 L806.6 299.0 L809.1 301.6 L811.6 304.2 L814.1 306.8 L816.7 309.4 L819.3 312.0 L822.0 314.6 L824.7 317.2 L827.4 319.8 L830.1 322.4 L832.9 325.0 L835.7 327.6 L838.6 330.2 L841.5 332.8 L844.4 335.4 L847.4 338.0 L850.4 340.6 L853.5 343.2 L856.5 345.8 L859.7 348.4 L862.8 351.0 L866.1 353.6 L869.3 356.2 L872.6 358.8 L875.9 361.4 L879.3 364.0 L882.7 366.6 L886.2 369.2 L889.7 371.8 L893.3 374.4 L896.9 377.0 L900.6 379.6 L904.3 382.2 L908.0 384.8 L911.8 387.4 L915.6 390.0 L919.5 392.6 L923.5 395.2 L927.5 397.8 L931.5 400.4 L935.6 403.0 L939.8 405.6 L944.0 408.2 L948.3 410.8 L952.6 413.4 L957.0 416.0 L961.4 418.6 L965.9 421.2 L970.5 423.8 L975.1 426.4 L979.7 429.0 L984.5 431.6 L989.3 434.2 L994.1 436.8 L999.0 439.4 L1004.0 442.0" fill="none" stroke="#000" stroke-width="4.6" stroke-dasharray="14 6"/>
</g>
<rect x="615.6" y="4.5" width="388.4" height="210.4" fill="none" stroke="#222" stroke-width="1.5"/>
<path d="M712.7 214.9v-3M712.7 4.5v3" stroke="#111" stroke-width="1.4"/>
<path d="M809.8 214.9v-3M809.8 4.5v3" stroke="#111" stroke-width="1.4"/>
<path d="M906.9 214.9v-3M906.9 4.5v3" stroke="#111" stroke-width="1.4"/>
<path d="M615.6 38.4h4M1004.0 38.4h-4" stroke="#111" stroke-width="1.4"/>
<path d="M615.6 43.7h2.5M1004.0 43.7h-2.5" stroke="#111" stroke-width="1.4"/>
<path d="M615.6 49.6h2.5M1004.0 49.6h-2.5" stroke="#111" stroke-width="1.4"/>
<path d="M615.6 56.4h2.5M1004.0 56.4h-2.5" stroke="#111" stroke-width="1.4"/>
<path d="M615.6 64.1h2.5M1004.0 64.1h-2.5" stroke="#111" stroke-width="1.4"/>
<path d="M615.6 73.3h2.5M1004.0 73.3h-2.5" stroke="#111" stroke-width="1.4"/>
<path d="M615.6 84.6h2.5M1004.0 84.6h-2.5" stroke="#111" stroke-width="1.4"/>
<path d="M615.6 99.1h2.5M1004.0 99.1h-2.5" stroke="#111" stroke-width="1.4"/>
<path d="M615.6 119.5h2.5M1004.0 119.5h-2.5" stroke="#111" stroke-width="1.4"/>
<text x="615.6" y="241.4" text-anchor="middle" class="t">0</text>
<text x="712.7" y="241.4" text-anchor="middle" class="t">500</text>
<text x="809.8" y="241.4" text-anchor="middle" class="t">1000</text>
<text x="906.9" y="241.4" text-anchor="middle" class="t">1500</text>
<text x="1004.0" y="241.4" text-anchor="middle" class="t">2000</text>
<text x="599.1" y="47.2" text-anchor="end" class="t">10</text>
<text x="609.4" y="31.6" text-anchor="end" class="s" style="font-size:15.5px">2</text>
<text x="806.8" y="271.5" text-anchor="middle" class="xl">Wavelength [nm]</text>
<g transform="translate(549.1,165.0) rotate(-90)"><text x="-1.6" y="0" style="font-size:23px" class="yl">μ</text><text x="17.5" y="12" style="font-size:17px" class="yl">s</text><text x="29" y="0" style="font-size:23px" class="yl">'</text><text x="38.6" y="0" style="font-size:23px" class="yl">[</text><text x="47" y="0" style="font-size:23px" class="yl">cm</text><text x="77.6" y="-11.5" style="font-size:17px" class="yl">-</text><text x="84.5" y="-11.5" style="font-size:17px" class="yl">1</text><text x="96.8" y="0" style="font-size:23px" class="yl">]</text></g>
<text x="226.0" y="333.6" class="xl">breast</text>
<g clip-path="url(#c10)">
<g fill="none" stroke="#e02020" stroke-width="1.35"><circle cx="191.0" cy="423.4" r="4.1"/><circle cx="199.2" cy="429.2" r="4.1"/><circle cx="211.4" cy="431.5" r="4.1"/><circle cx="217.2" cy="433.2" r="4.1"/><circle cx="210.2" cy="435.6" r="4.1"/><circle cx="218.3" cy="437.9" r="4.1"/><circle cx="226.5" cy="439.0" r="4.1"/><circle cx="233.4" cy="442.5" r="4.1"/><circle cx="240.4" cy="447.2" r="4.1"/><circle cx="248.5" cy="448.3" r="4.1"/><circle cx="256.7" cy="454.1" r="4.1"/><circle cx="269.5" cy="454.1" r="4.1"/><circle cx="282.8" cy="453.6" r="4.1"/><circle cx="242.7" cy="449.5" r="4.1"/><circle cx="211.4" cy="459.4" r="4.1"/><circle cx="218.3" cy="462.3" r="4.1"/><circle cx="226.5" cy="466.9" r="4.1"/><circle cx="223.0" cy="478.5" r="4.1"/><circle cx="238.1" cy="468.1" r="4.1"/><circle cx="247.4" cy="470.4" r="4.1"/><circle cx="249.7" cy="466.9" r="4.1"/><circle cx="255.5" cy="471.6" r="4.1"/><circle cx="263.6" cy="472.7" r="4.1"/><circle cx="271.8" cy="475.1" r="4.1"/><circle cx="284.6" cy="477.4" r="4.1"/><circle cx="247.4" cy="473.9" r="4.1"/><circle cx="254.3" cy="477.4" r="4.1"/><circle cx="263.6" cy="477.4" r="4.1"/><circle cx="268.3" cy="476.2" r="4.1"/><circle cx="277.6" cy="476.2" r="4.1"/><circle cx="247.4" cy="485.5" r="4.1"/><circle cx="257.8" cy="487.8" r="4.1"/><circle cx="267.1" cy="487.8" r="4.1"/><circle cx="269.5" cy="486.7" r="4.1"/><circle cx="282.8" cy="490.2" r="4.1"/><circle cx="261.3" cy="456.5" r="4.1"/><circle cx="268.3" cy="460.0" r="4.1"/><circle cx="276.4" cy="463.4" r="4.1"/></g>
<path d="M131.6 386.3 L132.1 387.0 L132.6 387.7 L133.1 388.4 L133.6 389.1 L134.1 389.8 L134.6 390.4 L135.2 391.1 L135.7 391.8 L136.3 392.5 L136.8 393.2 L137.4 393.9 L137.9 394.6 L138.5 395.3 L139.1 395.9 L139.7 396.6 L140.3 397.3 L140.9 398.0 L141.5 398.7 L142.2 399.4 L142.8 400.1 L143.4 400.8 L144.1 401.4 L144.7 402.1 L145.4 402.8 L146.1 403.5 L146.8 404.2 L147.4 404.9 L148.1 405.6 L148.9 406.3 L149.6 406.9 L150.3 407.6 L151.0 408.3 L151.8 409.0 L152.5 409.7 L153.3 410.4 L154.1 411.1 L154.9 411.8 L155.7 412.4 L156.5 413.1 L157.3 413.8 L158.1 414.5 L159.0 415.2 L159.8 415.9 L160.7 416.6 L161.5 417.3 L162.4 417.9 L163.3 418.6 L164.2 419.3 L165.2 420.0 L166.1 420.7 L167.0 421.4 L168.0 422.1 L168.9 422.8 L169.9 423.4 L170.9 424.1 L171.9 424.8 L172.9 425.5 L174.0 426.2 L175.0 426.9 L176.1 427.6 L177.2 428.3 L178.2 428.9 L179.3 429.6 L180.5 430.3 L181.6 431.0 L182.7 431.7 L183.9 432.4 L185.1 433.1 L186.2 433.8 L187.5 434.4 L188.7 435.1 L189.9 435.8 L191.2 436.5 L192.4 437.2 L193.7 437.9 L195.0 438.6 L196.3 439.3 L197.7 439.9 L199.0 440.6 L200.4 441.3 L201.8 442.0 L203.2 442.7 L204.6 443.4 L206.1 444.1 L207.5 444.8 L209.0 445.4 L210.5 446.1 L212.0 446.8 L213.6 447.5 L215.1 448.2 L216.7 448.9 L218.3 449.6 L219.9 450.3 L221.6 450.9 L223.2 451.6 L224.9 452.3 L226.6 453.0 L228.3 453.7 L230.1 454.4 L231.9 455.1 L233.7 455.8 L235.5 456.4 L237.3 457.1 L239.2 457.8 L241.1 458.5 L243.0 459.2 L245.0 459.9 L246.9 460.6 L248.9 461.3 L250.9 461.9 L253.0 462.6 L255.0 463.3 L257.1 464.0 L259.3 464.7 L261.4 465.4 L263.6 466.1 L265.8 466.8 L268.1 467.4 L270.3 468.1 L272.6 468.8 L274.9 469.5 L277.3 470.2 L279.7 470.9 L282.1 471.6 L284.6 472.3 L287.0 472.9 L289.5 473.6 L292.1 474.3 L294.7 475.0 L297.3 475.7 L299.9 476.4 L302.6 477.1 L305.3 477.8 L308.1 478.4 L310.9 479.1 L313.7 479.8 L316.6 480.5 L319.4 481.2 L322.4 481.9 L325.4 482.6 L328.4 483.3 L331.4 483.9 L334.5 484.6 L337.6 485.3 L340.8 486.0 L344.0 486.7 L347.3 487.4 L350.6 488.1 L353.9 488.8 L357.3 489.4 L360.7 490.1 L364.2 490.8 L367.7 491.5 L371.3 492.2 L374.9 492.9 L378.5 493.6 L382.2 494.3 L386.0 494.9 L389.8 495.6 L393.6 496.3 L397.5 497.0 L401.5 497.7 L405.5 498.4 L409.5 499.1 L413.6 499.8 L417.8 500.4 L422.0 501.1 L426.3 501.8 L430.6 502.5 L435.0 503.2 L439.4 503.9 L443.9 504.6 L448.4 505.3 L453.1 505.9 L457.7 506.6 L462.5 507.3 L467.2 508.0 L472.1 508.7 L477.0 509.4 L482.0 510.1" fill="none" stroke="#25e032" stroke-width="4"/>
<path d="M131.6 301.9 L132.1 304.3 L132.6 306.6 L133.1 309.0 L133.6 311.3 L134.1 313.7 L134.6 316.0 L135.2 318.3 L135.7 320.6 L136.3 322.9 L136.8 325.1 L137.4 327.4 L137.9 329.6 L138.5 331.9 L139.1 334.1 L139.7 336.3 L140.3 338.5 L140.9 340.7 L141.5 342.8 L142.2 345.0 L142.8 347.1 L143.4 349.2 L144.1 351.3 L144.7 353.4 L145.4 355.5 L146.1 357.5 L146.8 359.6 L147.4 361.6 L148.1 363.6 L148.9 365.5 L149.6 367.5 L150.3 369.4 L151.0 371.4 L151.8 373.2 L152.5 375.1 L153.3 377.0 L154.1 378.8 L154.9 380.6 L155.7 382.4 L156.5 384.2 L157.3 385.9 L158.1 387.7 L159.0 389.4 L159.8 391.1 L160.7 392.7 L161.5 394.3 L162.4 396.0 L163.3 397.5 L164.2 399.1 L165.2 400.7 L166.1 402.2 L167.0 403.7 L168.0 405.1 L168.9 406.6 L169.9 408.0 L170.9 409.4 L171.9 410.8 L172.9 412.2 L174.0 413.5 L175.0 414.8 L176.1 416.1 L177.2 417.4 L178.2 418.6 L179.3 419.9 L180.5 421.1 L181.6 422.2 L182.7 423.4 L183.9 424.5 L185.1 425.7 L186.2 426.8 L187.5 427.9 L188.7 428.9 L189.9 430.0 L191.2 431.0 L192.4 432.0 L193.7 433.0 L195.0 434.0 L196.3 434.9 L197.7 435.9 L199.0 436.8 L200.4 437.7 L201.8 438.6 L203.2 439.5 L204.6 440.3 L206.1 441.2 L207.5 442.0 L209.0 442.8 L210.5 443.6 L212.0 444.4 L213.6 445.2 L215.1 446.0 L216.7 446.7 L218.3 447.5 L219.9 448.2 L221.6 448.9 L223.2 449.6 L224.9 450.3 L226.6 451.0 L228.3 451.7 L230.1 452.4 L231.9 453.1 L233.7 453.7 L235.5 454.4 L237.3 455.0 L239.2 455.6 L241.1 456.3 L243.0 456.9 L245.0 457.5 L246.9 458.1 L248.9 458.7 L250.9 459.3 L253.0 459.9 L255.0 460.5 L257.1 461.0 L259.3 461.6 L261.4 462.2 L263.6 462.7 L265.8 463.3 L268.1 463.8 L270.3 464.4 L272.6 464.9 L274.9 465.5 L277.3 466.0 L279.7 466.5 L282.1 467.1 L284.6 467.6 L287.0 468.1 L289.5 468.6 L292.1 469.1 L294.7 469.6 L297.3 470.1 L299.9 470.7 L302.6 471.2 L305.3 471.7 L308.1 472.1 L310.9 472.6 L313.7 473.1 L316.6 473.6 L319.4 474.1 L322.4 474.6 L325.4 475.1 L328.4 475.6 L331.4 476.0 L334.5 476.5 L337.6 477.0 L340.8 477.5 L344.0 478.0 L347.3 478.4 L350.6 478.9 L353.9 479.4 L357.3 479.8 L360.7 480.3 L364.2 480.8 L367.7 481.2 L371.3 481.7 L374.9 482.2 L378.5 482.6 L382.2 483.1 L386.0 483.5 L389.8 484.0 L393.6 484.5 L397.5 484.9 L401.5 485.4 L405.5 485.8 L409.5 486.3 L413.6 486.7 L417.8 487.2 L422.0 487.7 L426.3 488.1 L430.6 488.6 L435.0 489.0 L439.4 489.5 L443.9 489.9 L448.4 490.4 L453.1 490.8 L457.7 491.3 L462.5 491.7 L467.2 492.2 L472.1 492.6 L477.0 493.1 L482.0 493.5" fill="none" stroke="#000" stroke-width="4.4"/>
<path d="M131.6 414.6 L132.1 415.0 L132.6 415.5 L133.1 415.9 L133.6 416.3 L134.1 416.8 L134.6 417.2 L135.2 417.7 L135.7 418.1 L136.3 418.5 L136.8 419.0 L137.4 419.4 L137.9 419.9 L138.5 420.3 L139.1 420.7 L139.7 421.2 L140.3 421.6 L140.9 422.1 L141.5 422.5 L142.2 422.9 L142.8 423.4 L143.4 423.8 L144.1 424.3 L144.7 424.7 L145.4 425.1 L146.1 425.6 L146.8 426.0 L147.4 426.5 L148.1 426.9 L148.9 427.3 L149.6 427.8 L150.3 428.2 L151.0 428.6 L151.8 429.1 L152.5 429.5 L153.3 430.0 L154.1 430.4 L154.9 430.8 L155.7 431.3 L156.5 431.7 L157.3 432.2 L158.1 432.6 L159.0 433.0 L159.8 433.5 L160.7 433.9 L161.5 434.4 L162.4 434.8 L163.3 435.2 L164.2 435.7 L165.2 436.1 L166.1 436.6 L167.0 437.0 L168.0 437.4 L168.9 437.9 L169.9 438.3 L170.9 438.8 L171.9 439.2 L172.9 439.6 L174.0 440.1 L175.0 440.5 L176.1 441.0 L177.2 441.4 L178.2 441.8 L179.3 442.3 L180.5 442.7 L181.6 443.2 L182.7 443.6 L183.9 444.0 L185.1 444.5 L186.2 444.9 L187.5 445.3 L188.7 445.8 L189.9 446.2 L191.2 446.7 L192.4 447.1 L193.7 447.5 L195.0 448.0 L196.3 448.4 L197.7 448.9 L199.0 449.3 L200.4 449.7 L201.8 450.2 L203.2 450.6 L204.6 451.1 L206.1 451.5 L207.5 451.9 L209.0 452.4 L210.5 452.8 L212.0 453.3 L213.6 453.7 L215.1 454.1 L216.7 454.6 L218.3 455.0 L219.9 455.5 L221.6 455.9 L223.2 456.3 L224.9 456.8 L226.6 457.2 L228.3 457.7 L230.1 458.1 L231.9 458.5 L233.7 459.0 L235.5 459.4 L237.3 459.9 L239.2 460.3 L241.1 460.7 L243.0 461.2 L245.0 461.6 L246.9 462.0 L248.9 462.5 L250.9 462.9 L253.0 463.4 L255.0 463.8 L257.1 464.2 L259.3 464.7 L261.4 465.1 L263.6 465.6 L265.8 466.0 L268.1 466.4 L270.3 466.9 L272.6 467.3 L274.9 467.8 L277.3 468.2 L279.7 468.6 L282.1 469.1 L284.6 469.5 L287.0 470.0 L289.5 470.4 L292.1 470.8 L294.7 471.3 L297.3 471.7 L299.9 472.2 L302.6 472.6 L305.3 473.0 L308.1 473.5 L310.9 473.9 L313.7 474.4 L316.6 474.8 L319.4 475.2 L322.4 475.7 L325.4 476.1 L328.4 476.6 L331.4 477.0 L334.5 477.4 L337.6 477.9 L340.8 478.3 L344.0 478.7 L347.3 479.2 L350.6 479.6 L353.9 480.1 L357.3 480.5 L360.7 480.9 L364.2 481.4 L367.7 481.8 L371.3 482.3 L374.9 482.7 L378.5 483.1 L382.2 483.6 L386.0 484.0 L389.8 484.5 L393.6 484.9 L397.5 485.3 L401.5 485.8 L405.5 486.2 L409.5 486.7 L413.6 487.1 L417.8 487.5 L422.0 488.0 L426.3 488.4 L430.6 488.9 L435.0 489.3 L439.4 489.7 L443.9 490.2 L448.4 490.6 L453.1 491.1 L457.7 491.5 L462.5 491.9 L467.2 492.4 L472.1 492.8 L477.0 493.3 L482.0 493.7" fill="none" stroke="#000" stroke-width="4.6" stroke-dasharray="14 6"/>
<path d="M131.6 307.6 L132.1 310.2 L132.6 312.8 L133.1 315.4 L133.6 318.0 L134.1 320.6 L134.6 323.2 L135.2 325.8 L135.7 328.4 L136.3 331.0 L136.8 333.6 L137.4 336.2 L137.9 338.8 L138.5 341.4 L139.1 344.0 L139.7 346.6 L140.3 349.2 L140.9 351.8 L141.5 354.4 L142.2 357.0 L142.8 359.6 L143.4 362.2 L144.1 364.8 L144.7 367.4 L145.4 370.0 L146.1 372.6 L146.8 375.2 L147.4 377.8 L148.1 380.4 L148.9 383.0 L149.6 385.6 L150.3 388.2 L151.0 390.8 L151.8 393.4 L152.5 396.0 L153.3 398.6 L154.1 401.2 L154.9 403.8 L155.7 406.4 L156.5 409.0 L157.3 411.6 L158.1 414.2 L159.0 416.8 L159.8 419.4 L160.7 422.0 L161.5 424.6 L162.4 427.2 L163.3 429.8 L164.2 432.4 L165.2 435.0 L166.1 437.6 L167.0 440.2 L168.0 442.8 L168.9 445.4 L169.9 448.0 L170.9 450.6 L171.9 453.2 L172.9 455.8 L174.0 458.4 L175.0 461.0 L176.1 463.6 L177.2 466.2 L178.2 468.8 L179.3 471.4 L180.5 474.0 L181.6 476.6 L182.7 479.2 L183.9 481.8 L185.1 484.4 L186.2 487.0 L187.5 489.6 L188.7 492.2 L189.9 494.8 L191.2 497.4 L192.4 500.0 L193.7 502.6 L195.0 505.2 L196.3 507.8 L197.7 510.4 L199.0 513.0 L200.4 515.6 L201.8 518.2 L203.2 520.9 L204.6 523.5 L206.1 526.1 L207.5 528.7 L209.0 531.3 L210.5 533.9 L212.0 536.5 L213.6 539.1 L215.1 541.7 L216.7 544.3 L218.3 546.9 L219.9 549.5 L221.6 552.1 L223.2 554.7 L224.9 557.3 L226.6 559.9 L228.3 562.5 L230.1 565.1 L231.9 567.7 L233.7 570.3 L235.5 572.9 L237.3 575.5 L239.2 578.1 L241.1 580.7 L243.0 583.3 L245.0 585.9 L246.9 588.5 L248.9 591.1 L250.9 593.7 L253.0 596.3 L255.0 598.9 L257.1 601.5 L259.3 604.1 L261.4 606.7 L263.6 609.3 L265.8 611.9 L268.1 614.5 L270.3 617.1 L272.6 619.7 L274.9 622.3 L277.3 624.9 L279.7 627.5 L282.1 630.1 L284.6 632.7 L287.0 635.3 L289.5 637.9 L292.1 640.5 L294.7 643.1 L297.3 645.7 L299.9 648.3 L302.6 650.9 L305.3 653.5 L308.1 656.1 L310.9 658.7 L313.7 661.3 L316.6 663.9 L319.4 666.5 L322.4 669.1 L325.4 671.7 L328.4 674.3 L331.4 676.9 L334.5 679.5 L337.6 682.1 L340.8 684.7 L344.0 687.3 L347.3 689.9 L350.6 692.5 L353.9 695.1 L357.3 697.7 L360.7 700.3 L364.2 702.9 L367.7 705.5 L371.3 708.1 L374.9 710.7 L378.5 713.3 L382.2 715.9 L386.0 718.5 L389.8 721.1 L393.6 723.7 L397.5 726.3 L401.5 728.9 L405.5 731.5 L409.5 734.1 L413.6 736.7 L417.8 739.3 L422.0 741.9 L426.3 744.5 L430.6 747.1 L435.0 749.7 L439.4 752.3 L443.9 754.9 L448.4 757.5 L453.1 760.1 L457.7 762.7 L462.5 765.3 L467.2 767.9 L472.1 770.5 L477.0 773.1 L482.0 775.7" fill="none" stroke="#000" stroke-width="4.6" stroke-dasharray="14 6"/>
</g>
<rect x="93.5" y="311.0" width="388.5" height="210.39999999999998" fill="none" stroke="#222" stroke-width="1.5"/>
<path d="M190.6 521.4v-3M190.6 311.0v3" stroke="#111" stroke-width="1.4"/>
<path d="M287.8 521.4v-3M287.8 311.0v3" stroke="#111" stroke-width="1.4"/>
<path d="M384.9 521.4v-3M384.9 311.0v3" stroke="#111" stroke-width="1.4"/>
<path d="M93.5 344.9h4M482.0 344.9h-4" stroke="#111" stroke-width="1.4"/>
<path d="M93.5 350.2h2.5M482.0 350.2h-2.5" stroke="#111" stroke-width="1.4"/>
<path d="M93.5 356.1h2.5M482.0 356.1h-2.5" stroke="#111" stroke-width="1.4"/>
<path d="M93.5 362.9h2.5M482.0 362.9h-2.5" stroke="#111" stroke-width="1.4"/>
<path d="M93.5 370.6h2.5M482.0 370.6h-2.5" stroke="#111" stroke-width="1.4"/>
<path d="M93.5 379.8h2.5M482.0 379.8h-2.5" stroke="#111" stroke-width="1.4"/>
<path d="M93.5 391.1h2.5M482.0 391.1h-2.5" stroke="#111" stroke-width="1.4"/>
<path d="M93.5 405.6h2.5M482.0 405.6h-2.5" stroke="#111" stroke-width="1.4"/>
<path d="M93.5 426.0h2.5M482.0 426.0h-2.5" stroke="#111" stroke-width="1.4"/>
<text x="93.5" y="547.9" text-anchor="middle" class="t">0</text>
<text x="190.6" y="547.9" text-anchor="middle" class="t">500</text>
<text x="287.8" y="547.9" text-anchor="middle" class="t">1000</text>
<text x="384.9" y="547.9" text-anchor="middle" class="t">1500</text>
<text x="482.0" y="547.9" text-anchor="middle" class="t">2000</text>
<text x="77.0" y="353.7" text-anchor="end" class="t">10</text>
<text x="87.3" y="338.1" text-anchor="end" class="s" style="font-size:15.5px">2</text>
<text x="284.8" y="578.0" text-anchor="middle" class="xl">Wavelength [nm]</text>
<g transform="translate(27.0,471.5) rotate(-90)"><text x="-1.6" y="0" style="font-size:23px" class="yl">μ</text><text x="17.5" y="12" style="font-size:17px" class="yl">s</text><text x="29" y="0" style="font-size:23px" class="yl">'</text><text x="38.6" y="0" style="font-size:23px" class="yl">[</text><text x="47" y="0" style="font-size:23px" class="yl">cm</text><text x="77.6" y="-11.5" style="font-size:17px" class="yl">-</text><text x="84.5" y="-11.5" style="font-size:17px" class="yl">1</text><text x="96.8" y="0" style="font-size:23px" class="yl">]</text></g>
<text x="768.5" y="333.6" class="xl">bone</text>
<g clip-path="url(#c11)">
<g fill="none" stroke="#e02020" stroke-width="1.35"><circle cx="692.9" cy="376.3" r="4.1"/><circle cx="695.6" cy="378.3" r="4.1"/><circle cx="698.3" cy="380.4" r="4.1"/><circle cx="701.1" cy="382.4" r="4.1"/><circle cx="703.8" cy="384.5" r="4.1"/><circle cx="706.5" cy="386.5" r="4.1"/><circle cx="709.2" cy="388.5" r="4.1"/><circle cx="711.9" cy="390.6" r="4.1"/><circle cx="714.7" cy="392.6" r="4.1"/><circle cx="717.4" cy="394.6" r="4.1"/><circle cx="720.2" cy="396.5" r="4.1"/><circle cx="723.0" cy="398.4" r="4.1"/><circle cx="725.8" cy="400.4" r="4.1"/><circle cx="728.7" cy="402.3" r="4.1"/><circle cx="731.5" cy="404.2" r="4.1"/><circle cx="734.3" cy="406.1" r="4.1"/><circle cx="737.1" cy="408.0" r="4.1"/><circle cx="739.9" cy="409.9" r="4.1"/><circle cx="742.7" cy="411.8" r="4.1"/><circle cx="745.5" cy="413.7" r="4.1"/><circle cx="748.4" cy="415.5" r="4.1"/><circle cx="751.4" cy="417.1" r="4.1"/><circle cx="754.4" cy="418.7" r="4.1"/><circle cx="757.4" cy="420.3" r="4.1"/><circle cx="760.4" cy="421.9" r="4.1"/><circle cx="763.5" cy="423.4" r="4.1"/><circle cx="766.5" cy="425.0" r="4.1"/><circle cx="769.5" cy="426.6" r="4.1"/><circle cx="772.5" cy="428.2" r="4.1"/><circle cx="775.5" cy="429.8" r="4.1"/><circle cx="778.5" cy="431.3" r="4.1"/><circle cx="781.6" cy="432.7" r="4.1"/><circle cx="784.8" cy="434.0" r="4.1"/><circle cx="787.9" cy="435.3" r="4.1"/><circle cx="791.0" cy="436.6" r="4.1"/><circle cx="794.2" cy="438.0" r="4.1"/><circle cx="797.3" cy="439.3" r="4.1"/><circle cx="800.4" cy="440.6" r="4.1"/><circle cx="803.6" cy="441.9" r="4.1"/><circle cx="806.7" cy="443.3" r="4.1"/><circle cx="679.7" cy="412.6" r="4.1"/><circle cx="701.0" cy="420.4" r="4.1"/><circle cx="722.3" cy="427.0" r="4.1"/><circle cx="741.7" cy="430.8" r="4.1"/><circle cx="763.0" cy="436.7" r="4.1"/><circle cx="782.3" cy="440.5" r="4.1"/><circle cx="746.3" cy="464.9" r="4.1"/><circle cx="780.4" cy="464.9" r="4.1"/><circle cx="799.7" cy="469.6" r="4.1"/></g>
<path d="M653.7 387.6 L654.2 388.0 L654.7 388.5 L655.2 388.9 L655.7 389.4 L656.2 389.8 L656.7 390.3 L657.3 390.7 L657.8 391.2 L658.4 391.6 L658.9 392.1 L659.5 392.5 L660.0 393.0 L660.6 393.4 L661.2 393.9 L661.8 394.3 L662.4 394.8 L663.0 395.2 L663.6 395.7 L664.2 396.1 L664.9 396.6 L665.5 397.0 L666.2 397.5 L666.8 397.9 L667.5 398.4 L668.2 398.8 L668.8 399.3 L669.5 399.7 L670.2 400.2 L670.9 400.6 L671.7 401.1 L672.4 401.5 L673.1 402.0 L673.9 402.4 L674.6 402.9 L675.4 403.3 L676.2 403.8 L677.0 404.2 L677.8 404.7 L678.6 405.1 L679.4 405.6 L680.2 406.0 L681.0 406.5 L681.9 406.9 L682.8 407.4 L683.6 407.8 L684.5 408.3 L685.4 408.7 L686.3 409.2 L687.2 409.6 L688.2 410.1 L689.1 410.5 L690.1 411.0 L691.0 411.4 L692.0 411.9 L693.0 412.3 L694.0 412.8 L695.0 413.2 L696.1 413.7 L697.1 414.1 L698.2 414.5 L699.2 415.0 L700.3 415.4 L701.4 415.9 L702.5 416.3 L703.7 416.8 L704.8 417.2 L706.0 417.7 L707.1 418.1 L708.3 418.6 L709.5 419.0 L710.8 419.5 L712.0 419.9 L713.2 420.4 L714.5 420.8 L715.8 421.3 L717.1 421.7 L718.4 422.2 L719.7 422.6 L721.1 423.1 L722.5 423.5 L723.9 424.0 L725.3 424.4 L726.7 424.9 L728.1 425.3 L729.6 425.8 L731.1 426.2 L732.6 426.7 L734.1 427.1 L735.6 427.6 L737.2 428.0 L738.8 428.5 L740.4 428.9 L742.0 429.4 L743.6 429.8 L745.3 430.3 L747.0 430.7 L748.7 431.2 L750.4 431.6 L752.2 432.1 L753.9 432.5 L755.7 433.0 L757.6 433.4 L759.4 433.9 L761.3 434.3 L763.2 434.8 L765.1 435.2 L767.0 435.7 L769.0 436.1 L771.0 436.6 L773.0 437.0 L775.0 437.5 L777.1 437.9 L779.2 438.4 L781.3 438.8 L783.5 439.3 L785.7 439.7 L787.9 440.2 L790.1 440.6 L792.4 441.1 L794.7 441.5 L797.0 442.0 L799.4 442.4 L801.7 442.9 L804.2 443.3 L806.6 443.8 L809.1 444.2 L811.6 444.7 L814.1 445.1 L816.7 445.6 L819.3 446.0 L822.0 446.5 L824.7 446.9 L827.4 447.4 L830.1 447.8 L832.9 448.3 L835.7 448.7 L838.6 449.2 L841.5 449.6 L844.4 450.1 L847.4 450.5 L850.4 451.0 L853.5 451.4 L856.5 451.9 L859.7 452.3 L862.8 452.8 L866.1 453.2 L869.3 453.7 L872.6 454.1 L875.9 454.6 L879.3 455.0 L882.7 455.5 L886.2 455.9 L889.7 456.4 L893.3 456.8 L896.9 457.3 L900.6 457.7 L904.3 458.2 L908.0 458.6 L911.8 459.0 L915.6 459.5 L919.5 459.9 L923.5 460.4 L927.5 460.8 L931.5 461.3 L935.6 461.7 L939.8 462.2 L944.0 462.6 L948.3 463.1 L952.6 463.5 L957.0 464.0 L961.4 464.4 L965.9 464.9 L970.5 465.3 L975.1 465.8 L979.7 466.2 L984.5 466.7 L989.3 467.1 L994.1 467.6 L999.0 468.0 L1004.0 468.5" fill="none" stroke="#25e032" stroke-width="4"/>
<path d="M653.7 373.3 L654.2 374.3 L654.7 375.2 L655.2 376.2 L655.7 377.1 L656.2 378.0 L656.7 378.9 L657.3 379.8 L657.8 380.7 L658.4 381.5 L658.9 382.3 L659.5 383.2 L660.0 384.0 L660.6 384.8 L661.2 385.6 L661.8 386.3 L662.4 387.1 L663.0 387.9 L663.6 388.6 L664.2 389.3 L664.9 390.0 L665.5 390.8 L666.2 391.5 L666.8 392.1 L667.5 392.8 L668.2 393.5 L668.8 394.2 L669.5 394.8 L670.2 395.5 L670.9 396.1 L671.7 396.7 L672.4 397.4 L673.1 398.0 L673.9 398.6 L674.6 399.2 L675.4 399.8 L676.2 400.4 L677.0 401.0 L677.8 401.6 L678.6 402.2 L679.4 402.7 L680.2 403.3 L681.0 403.9 L681.9 404.4 L682.8 405.0 L683.6 405.5 L684.5 406.1 L685.4 406.6 L686.3 407.1 L687.2 407.7 L688.2 408.2 L689.1 408.7 L690.1 409.3 L691.0 409.8 L692.0 410.3 L693.0 410.8 L694.0 411.3 L695.0 411.8 L696.1 412.4 L697.1 412.9 L698.2 413.4 L699.2 413.9 L700.3 414.4 L701.4 414.9 L702.5 415.4 L703.7 415.9 L704.8 416.3 L706.0 416.8 L707.1 417.3 L708.3 417.8 L709.5 418.3 L710.8 418.8 L712.0 419.3 L713.2 419.7 L714.5 420.2 L715.8 420.7 L717.1 421.2 L718.4 421.6 L719.7 422.1 L721.1 422.6 L722.5 423.1 L723.9 423.5 L725.3 424.0 L726.7 424.5 L728.1 424.9 L729.6 425.4 L731.1 425.9 L732.6 426.4 L734.1 426.8 L735.6 427.3 L737.2 427.7 L738.8 428.2 L740.4 428.7 L742.0 429.1 L743.6 429.6 L745.3 430.1 L747.0 430.5 L748.7 431.0 L750.4 431.4 L752.2 431.9 L753.9 432.4 L755.7 432.8 L757.6 433.3 L759.4 433.7 L761.3 434.2 L763.2 434.6 L765.1 435.1 L767.0 435.6 L769.0 436.0 L771.0 436.5 L773.0 436.9 L775.0 437.4 L777.1 437.8 L779.2 438.3 L781.3 438.7 L783.5 439.2 L785.7 439.7 L787.9 440.1 L790.1 440.6 L792.4 441.0 L794.7 441.5 L797.0 441.9 L799.4 442.4 L801.7 442.8 L804.2 443.3 L806.6 443.7 L809.1 444.2 L811.6 444.6 L814.1 445.1 L816.7 445.5 L819.3 446.0 L822.0 446.4 L824.7 446.9 L827.4 447.3 L830.1 447.8 L832.9 448.2 L835.7 448.7 L838.6 449.1 L841.5 449.6 L844.4 450.0 L847.4 450.5 L850.4 450.9 L853.5 451.4 L856.5 451.8 L859.7 452.3 L862.8 452.7 L866.1 453.2 L869.3 453.7 L872.6 454.1 L875.9 454.6 L879.3 455.0 L882.7 455.5 L886.2 455.9 L889.7 456.3 L893.3 456.8 L896.9 457.2 L900.6 457.7 L904.3 458.1 L908.0 458.6 L911.8 459.0 L915.6 459.5 L919.5 459.9 L923.5 460.4 L927.5 460.8 L931.5 461.3 L935.6 461.7 L939.8 462.2 L944.0 462.6 L948.3 463.1 L952.6 463.5 L957.0 464.0 L961.4 464.4 L965.9 464.9 L970.5 465.3 L975.1 465.8 L979.7 466.2 L984.5 466.7 L989.3 467.1 L994.1 467.6 L999.0 468.0 L1004.0 468.5" fill="none" stroke="#000" stroke-width="4.4"/>
<path d="M653.7 387.7 L654.2 388.2 L654.7 388.6 L655.2 389.1 L655.7 389.5 L656.2 390.0 L656.7 390.4 L657.3 390.9 L657.8 391.3 L658.4 391.7 L658.9 392.2 L659.5 392.6 L660.0 393.1 L660.6 393.5 L661.2 394.0 L661.8 394.4 L662.4 394.9 L663.0 395.3 L663.6 395.8 L664.2 396.2 L664.9 396.7 L665.5 397.1 L666.2 397.6 L666.8 398.0 L667.5 398.5 L668.2 398.9 L668.8 399.4 L669.5 399.8 L670.2 400.3 L670.9 400.7 L671.7 401.2 L672.4 401.6 L673.1 402.1 L673.9 402.5 L674.6 403.0 L675.4 403.4 L676.2 403.9 L677.0 404.3 L677.8 404.8 L678.6 405.2 L679.4 405.7 L680.2 406.1 L681.0 406.6 L681.9 407.0 L682.8 407.5 L683.6 407.9 L684.5 408.4 L685.4 408.8 L686.3 409.3 L687.2 409.7 L688.2 410.1 L689.1 410.6 L690.1 411.0 L691.0 411.5 L692.0 411.9 L693.0 412.4 L694.0 412.8 L695.0 413.3 L696.1 413.7 L697.1 414.2 L698.2 414.6 L699.2 415.1 L700.3 415.5 L701.4 416.0 L702.5 416.4 L703.7 416.9 L704.8 417.3 L706.0 417.8 L707.1 418.2 L708.3 418.7 L709.5 419.1 L710.8 419.6 L712.0 420.0 L713.2 420.5 L714.5 420.9 L715.8 421.4 L717.1 421.8 L718.4 422.3 L719.7 422.7 L721.1 423.2 L722.5 423.6 L723.9 424.1 L725.3 424.5 L726.7 425.0 L728.1 425.4 L729.6 425.9 L731.1 426.3 L732.6 426.8 L734.1 427.2 L735.6 427.7 L737.2 428.1 L738.8 428.5 L740.4 429.0 L742.0 429.4 L743.6 429.9 L745.3 430.3 L747.0 430.8 L748.7 431.2 L750.4 431.7 L752.2 432.1 L753.9 432.6 L755.7 433.0 L757.6 433.5 L759.4 433.9 L761.3 434.4 L763.2 434.8 L765.1 435.3 L767.0 435.7 L769.0 436.2 L771.0 436.6 L773.0 437.1 L775.0 437.5 L777.1 438.0 L779.2 438.4 L781.3 438.9 L783.5 439.3 L785.7 439.8 L787.9 440.2 L790.1 440.7 L792.4 441.1 L794.7 441.6 L797.0 442.0 L799.4 442.5 L801.7 442.9 L804.2 443.4 L806.6 443.8 L809.1 444.3 L811.6 444.7 L814.1 445.2 L816.7 445.6 L819.3 446.1 L822.0 446.5 L824.7 446.9 L827.4 447.4 L830.1 447.8 L832.9 448.3 L835.7 448.7 L838.6 449.2 L841.5 449.6 L844.4 450.1 L847.4 450.5 L850.4 451.0 L853.5 451.4 L856.5 451.9 L859.7 452.3 L862.8 452.8 L866.1 453.2 L869.3 453.7 L872.6 454.1 L875.9 454.6 L879.3 455.0 L882.7 455.5 L886.2 455.9 L889.7 456.4 L893.3 456.8 L896.9 457.3 L900.6 457.7 L904.3 458.2 L908.0 458.6 L911.8 459.1 L915.6 459.5 L919.5 460.0 L923.5 460.4 L927.5 460.9 L931.5 461.3 L935.6 461.8 L939.8 462.2 L944.0 462.7 L948.3 463.1 L952.6 463.6 L957.0 464.0 L961.4 464.5 L965.9 464.9 L970.5 465.3 L975.1 465.8 L979.7 466.2 L984.5 466.7 L989.3 467.1 L994.1 467.6 L999.0 468.0 L1004.0 468.5" fill="none" stroke="#000" stroke-width="4.6" stroke-dasharray="14 6"/>
<path d="M653.7 443.4 L654.2 446.0 L654.7 448.6 L655.2 451.2 L655.7 453.8 L656.2 456.4 L656.7 459.0 L657.3 461.6 L657.8 464.2 L658.4 466.8 L658.9 469.4 L659.5 472.0 L660.0 474.6 L660.6 477.2 L661.2 479.8 L661.8 482.4 L662.4 485.0 L663.0 487.6 L663.6 490.2 L664.2 492.8 L664.9 495.4 L665.5 498.0 L666.2 500.6 L666.8 503.2 L667.5 505.8 L668.2 508.4 L668.8 511.0 L669.5 513.6 L670.2 516.2 L670.9 518.8 L671.7 521.4 L672.4 524.0 L673.1 526.6 L673.9 529.2 L674.6 531.8 L675.4 534.4 L676.2 537.0 L677.0 539.6 L677.8 542.2 L678.6 544.8 L679.4 547.4 L680.2 550.0 L681.0 552.6 L681.9 555.2 L682.8 557.8 L683.6 560.4 L684.5 563.0 L685.4 565.6 L686.3 568.2 L687.2 570.8 L688.2 573.4 L689.1 576.0 L690.1 578.6 L691.0 581.2 L692.0 583.8 L693.0 586.4 L694.0 589.0 L695.0 591.6 L696.1 594.2 L697.1 596.8 L698.2 599.4 L699.2 602.0 L700.3 604.6 L701.4 607.2 L702.5 609.8 L703.7 612.4 L704.8 615.0 L706.0 617.6 L707.1 620.2 L708.3 622.8 L709.5 625.4 L710.8 628.0 L712.0 630.6 L713.2 633.2 L714.5 635.8 L715.8 638.4 L717.1 641.0 L718.4 643.6 L719.7 646.2 L721.1 648.8 L722.5 651.4 L723.9 654.0 L725.3 656.6 L726.7 659.2 L728.1 661.8 L729.6 664.4 L731.1 667.0 L732.6 669.6 L734.1 672.2 L735.6 674.8 L737.2 677.4 L738.8 680.0 L740.4 682.6 L742.0 685.2 L743.6 687.8 L745.3 690.4 L747.0 693.0 L748.7 695.6 L750.4 698.2 L752.2 700.8 L753.9 703.4 L755.7 706.0 L757.6 708.6 L759.4 711.2 L761.3 713.8 L763.2 716.4 L765.1 719.0 L767.0 721.6 L769.0 724.2 L771.0 726.8 L773.0 729.4 L775.0 732.0 L777.1 734.6 L779.2 737.2 L781.3 739.8 L783.5 742.4 L785.7 745.0 L787.9 747.6 L790.1 750.2 L792.4 752.8 L794.7 755.4 L797.0 758.0 L799.4 760.6 L801.7 763.3 L804.2 765.9 L806.6 768.5 L809.1 771.1 L811.6 773.7 L814.1 776.3 L816.7 778.9 L819.3 781.5 L822.0 784.1 L824.7 786.7 L827.4 789.3 L830.1 791.9 L832.9 794.5 L835.7 797.1 L838.6 799.7 L841.5 802.3 L844.4 804.9 L847.4 807.5 L850.4 810.1 L853.5 812.7 L856.5 815.3 L859.7 817.9 L862.8 820.5 L866.1 823.1 L869.3 825.7 L872.6 828.3 L875.9 830.9 L879.3 833.5 L882.7 836.1 L886.2 838.7 L889.7 841.3 L893.3 843.9 L896.9 846.5 L900.6 849.1 L904.3 851.7 L908.0 854.3 L911.8 856.9 L915.6 859.5 L919.5 862.1 L923.5 864.7 L927.5 867.3 L931.5 869.9 L935.6 872.5 L939.8 875.1 L944.0 877.7 L948.3 880.3 L952.6 882.9 L957.0 885.5 L961.4 888.1 L965.9 890.7 L970.5 893.3 L975.1 895.9 L979.7 898.5 L984.5 901.1 L989.3 903.7 L994.1 906.3 L999.0 908.9 L1004.0 911.5" fill="none" stroke="#000" stroke-width="4.6" stroke-dasharray="14 6"/>
</g>
<rect x="615.6" y="311.0" width="388.4" height="210.39999999999998" fill="none" stroke="#222" stroke-width="1.5"/>
<path d="M712.7 521.4v-3M712.7 311.0v3" stroke="#111" stroke-width="1.4"/>
<path d="M809.8 521.4v-3M809.8 311.0v3" stroke="#111" stroke-width="1.4"/>
<path d="M906.9 521.4v-3M906.9 311.0v3" stroke="#111" stroke-width="1.4"/>
<path d="M615.6 344.9h4M1004.0 344.9h-4" stroke="#111" stroke-width="1.4"/>
<path d="M615.6 350.2h2.5M1004.0 350.2h-2.5" stroke="#111" stroke-width="1.4"/>
<path d="M615.6 356.1h2.5M1004.0 356.1h-2.5" stroke="#111" stroke-width="1.4"/>
<path d="M615.6 362.9h2.5M1004.0 362.9h-2.5" stroke="#111" stroke-width="1.4"/>
<path d="M615.6 370.6h2.5M1004.0 370.6h-2.5" stroke="#111" stroke-width="1.4"/>
<path d="M615.6 379.8h2.5M1004.0 379.8h-2.5" stroke="#111" stroke-width="1.4"/>
<path d="M615.6 391.1h2.5M1004.0 391.1h-2.5" stroke="#111" stroke-width="1.4"/>
<path d="M615.6 405.6h2.5M1004.0 405.6h-2.5" stroke="#111" stroke-width="1.4"/>
<path d="M615.6 426.0h2.5M1004.0 426.0h-2.5" stroke="#111" stroke-width="1.4"/>
<text x="615.6" y="547.9" text-anchor="middle" class="t">0</text>
<text x="712.7" y="547.9" text-anchor="middle" class="t">500</text>
<text x="809.8" y="547.9" text-anchor="middle" class="t">1000</text>
<text x="906.9" y="547.9" text-anchor="middle" class="t">1500</text>
<text x="1004.0" y="547.9" text-anchor="middle" class="t">2000</text>
<text x="599.1" y="353.7" text-anchor="end" class="t">10</text>
<text x="609.4" y="338.1" text-anchor="end" class="s" style="font-size:15.5px">2</text>
<text x="806.8" y="578.0" text-anchor="middle" class="xl">Wavelength [nm]</text>
<g transform="translate(549.1,471.5) rotate(-90)"><text x="-1.6" y="0" style="font-size:23px" class="yl">μ</text><text x="17.5" y="12" style="font-size:17px" class="yl">s</text><text x="29" y="0" style="font-size:23px" class="yl">'</text><text x="38.6" y="0" style="font-size:23px" class="yl">[</text><text x="47" y="0" style="font-size:23px" class="yl">cm</text><text x="77.6" y="-11.5" style="font-size:17px" class="yl">-</text><text x="84.5" y="-11.5" style="font-size:17px" class="yl">1</text><text x="96.8" y="0" style="font-size:23px" class="yl">]</text></g>
<text x="150.0" y="640.1" class="xl">other soft tissues</text>
<g clip-path="url(#c20)">
<g fill="none" stroke="#e02020" stroke-width="1.35"><circle cx="165.0" cy="670.0" r="4.1"/><circle cx="170.4" cy="674.9" r="4.1"/><circle cx="175.9" cy="679.5" r="4.1"/><circle cx="181.3" cy="683.8" r="4.1"/><circle cx="186.7" cy="687.8" r="4.1"/><circle cx="192.2" cy="691.6" r="4.1"/><circle cx="197.6" cy="695.2" r="4.1"/><circle cx="203.1" cy="698.6" r="4.1"/><circle cx="208.5" cy="701.9" r="4.1"/><circle cx="213.9" cy="705.0" r="4.1"/><circle cx="219.4" cy="707.9" r="4.1"/><circle cx="224.8" cy="710.8" r="4.1"/><circle cx="230.3" cy="713.5" r="4.1"/><circle cx="235.7" cy="716.1" r="4.1"/><circle cx="241.1" cy="718.6" r="4.1"/><circle cx="246.6" cy="721.0" r="4.1"/><circle cx="252.0" cy="723.4" r="4.1"/><circle cx="257.4" cy="725.6" r="4.1"/><circle cx="262.9" cy="727.8" r="4.1"/><circle cx="268.3" cy="729.9" r="4.1"/><circle cx="273.8" cy="732.0" r="4.1"/><circle cx="279.2" cy="734.0" r="4.1"/><circle cx="284.6" cy="735.9" r="4.1"/><circle cx="167.1" cy="689.3" r="4.1"/><circle cx="172.6" cy="693.2" r="4.1"/><circle cx="178.0" cy="696.8" r="4.1"/><circle cx="183.4" cy="700.2" r="4.1"/><circle cx="188.9" cy="703.4" r="4.1"/><circle cx="194.3" cy="706.4" r="4.1"/><circle cx="199.8" cy="709.2" r="4.1"/><circle cx="205.2" cy="712.0" r="4.1"/><circle cx="210.6" cy="714.5" r="4.1"/><circle cx="216.1" cy="717.0" r="4.1"/><circle cx="221.5" cy="719.4" r="4.1"/><circle cx="226.9" cy="721.6" r="4.1"/><circle cx="232.4" cy="723.8" r="4.1"/><circle cx="237.8" cy="725.9" r="4.1"/><circle cx="243.3" cy="727.9" r="4.1"/><circle cx="248.7" cy="729.8" r="4.1"/><circle cx="254.1" cy="731.7" r="4.1"/><circle cx="259.6" cy="733.5" r="4.1"/><circle cx="265.0" cy="735.2" r="4.1"/><circle cx="270.5" cy="736.9" r="4.1"/><circle cx="275.9" cy="738.6" r="4.1"/><circle cx="281.3" cy="740.2" r="4.1"/><circle cx="286.8" cy="741.7" r="4.1"/><circle cx="169.3" cy="695.6" r="4.1"/><circle cx="174.7" cy="699.4" r="4.1"/><circle cx="180.1" cy="703.0" r="4.1"/><circle cx="185.6" cy="706.3" r="4.1"/><circle cx="191.0" cy="709.4" r="4.1"/><circle cx="196.5" cy="712.4" r="4.1"/><circle cx="201.9" cy="715.2" r="4.1"/><circle cx="207.3" cy="717.8" r="4.1"/><circle cx="212.8" cy="720.4" r="4.1"/><circle cx="218.2" cy="722.8" r="4.1"/><circle cx="223.6" cy="725.2" r="4.1"/><circle cx="229.1" cy="727.4" r="4.1"/><circle cx="234.5" cy="729.5" r="4.1"/><circle cx="240.0" cy="731.6" r="4.1"/><circle cx="245.4" cy="733.6" r="4.1"/><circle cx="250.8" cy="735.5" r="4.1"/><circle cx="256.3" cy="737.4" r="4.1"/><circle cx="261.7" cy="739.2" r="4.1"/><circle cx="267.2" cy="740.9" r="4.1"/><circle cx="272.6" cy="742.6" r="4.1"/><circle cx="278.0" cy="744.2" r="4.1"/><circle cx="283.5" cy="745.8" r="4.1"/><circle cx="166.0" cy="698.6" r="4.1"/><circle cx="171.4" cy="702.5" r="4.1"/><circle cx="176.8" cy="706.2" r="4.1"/><circle cx="182.3" cy="709.6" r="4.1"/><circle cx="187.7" cy="712.8" r="4.1"/><circle cx="193.2" cy="715.9" r="4.1"/><circle cx="198.6" cy="718.7" r="4.1"/><circle cx="204.0" cy="721.5" r="4.1"/><circle cx="209.5" cy="724.1" r="4.1"/><circle cx="214.9" cy="726.6" r="4.1"/><circle cx="220.3" cy="728.9" r="4.1"/><circle cx="225.8" cy="731.2" r="4.1"/><circle cx="231.2" cy="733.4" r="4.1"/><circle cx="236.7" cy="735.5" r="4.1"/><circle cx="242.1" cy="737.5" r="4.1"/><circle cx="247.5" cy="739.4" r="4.1"/><circle cx="253.0" cy="741.3" r="4.1"/><circle cx="258.4" cy="743.1" r="4.1"/><circle cx="263.9" cy="744.9" r="4.1"/><circle cx="269.3" cy="746.6" r="4.1"/><circle cx="274.7" cy="748.2" r="4.1"/><circle cx="280.2" cy="749.8" r="4.1"/><circle cx="285.6" cy="751.4" r="4.1"/><circle cx="168.1" cy="713.9" r="4.1"/><circle cx="173.5" cy="717.1" r="4.1"/><circle cx="179.0" cy="720.0" r="4.1"/><circle cx="184.4" cy="722.8" r="4.1"/><circle cx="189.8" cy="725.4" r="4.1"/><circle cx="195.3" cy="727.9" r="4.1"/><circle cx="200.7" cy="730.3" r="4.1"/><circle cx="206.2" cy="732.5" r="4.1"/><circle cx="211.6" cy="734.6" r="4.1"/><circle cx="217.0" cy="736.6" r="4.1"/><circle cx="222.5" cy="738.6" r="4.1"/><circle cx="227.9" cy="740.4" r="4.1"/><circle cx="233.4" cy="742.2" r="4.1"/><circle cx="238.8" cy="743.9" r="4.1"/><circle cx="244.2" cy="745.6" r="4.1"/><circle cx="249.7" cy="747.2" r="4.1"/><circle cx="255.1" cy="748.7" r="4.1"/><circle cx="260.6" cy="750.2" r="4.1"/><circle cx="266.0" cy="751.7" r="4.1"/><circle cx="271.4" cy="753.1" r="4.1"/><circle cx="276.9" cy="754.4" r="4.1"/><circle cx="282.3" cy="755.7" r="4.1"/><circle cx="287.8" cy="757.0" r="4.1"/><circle cx="170.2" cy="719.2" r="4.1"/><circle cx="175.7" cy="722.4" r="4.1"/><circle cx="181.1" cy="725.3" r="4.1"/><circle cx="186.5" cy="728.1" r="4.1"/><circle cx="192.0" cy="730.7" r="4.1"/><circle cx="197.4" cy="733.2" r="4.1"/><circle cx="202.9" cy="735.6" r="4.1"/><circle cx="208.3" cy="737.8" r="4.1"/><circle cx="213.7" cy="739.9" r="4.1"/><circle cx="219.2" cy="742.0" r="4.1"/><circle cx="224.6" cy="743.9" r="4.1"/><circle cx="230.1" cy="745.8" r="4.1"/><circle cx="235.5" cy="747.6" r="4.1"/><circle cx="240.9" cy="749.3" r="4.1"/><circle cx="246.4" cy="751.0" r="4.1"/><circle cx="251.8" cy="752.6" r="4.1"/><circle cx="257.3" cy="754.1" r="4.1"/><circle cx="262.7" cy="755.6" r="4.1"/><circle cx="268.1" cy="757.1" r="4.1"/><circle cx="273.6" cy="758.5" r="4.1"/><circle cx="279.0" cy="759.9" r="4.1"/><circle cx="284.4" cy="761.2" r="4.1"/><circle cx="166.9" cy="721.2" r="4.1"/><circle cx="172.4" cy="724.6" r="4.1"/><circle cx="177.8" cy="727.7" r="4.1"/><circle cx="183.2" cy="730.6" r="4.1"/><circle cx="188.7" cy="733.4" r="4.1"/><circle cx="194.1" cy="736.0" r="4.1"/><circle cx="199.6" cy="738.5" r="4.1"/><circle cx="205.0" cy="740.9" r="4.1"/><circle cx="210.4" cy="743.1" r="4.1"/><circle cx="215.9" cy="745.2" r="4.1"/><circle cx="221.3" cy="747.3" r="4.1"/><circle cx="226.8" cy="749.3" r="4.1"/><circle cx="232.2" cy="751.1" r="4.1"/><circle cx="237.6" cy="753.0" r="4.1"/><circle cx="243.1" cy="754.7" r="4.1"/><circle cx="248.5" cy="756.4" r="4.1"/><circle cx="254.0" cy="758.0" r="4.1"/><circle cx="259.4" cy="759.6" r="4.1"/><circle cx="264.8" cy="761.1" r="4.1"/><circle cx="270.3" cy="762.6" r="4.1"/><circle cx="275.7" cy="764.0" r="4.1"/><circle cx="281.1" cy="765.4" r="4.1"/><circle cx="286.6" cy="766.7" r="4.1"/><circle cx="169.1" cy="727.5" r="4.1"/><circle cx="174.5" cy="730.8" r="4.1"/><circle cx="179.9" cy="733.9" r="4.1"/><circle cx="185.4" cy="736.7" r="4.1"/><circle cx="190.8" cy="739.4" r="4.1"/><circle cx="196.3" cy="742.0" r="4.1"/><circle cx="201.7" cy="744.4" r="4.1"/><circle cx="207.1" cy="746.7" r="4.1"/><circle cx="212.6" cy="748.9" r="4.1"/><circle cx="218.0" cy="751.0" r="4.1"/><circle cx="223.5" cy="753.1" r="4.1"/><circle cx="228.9" cy="755.0" r="4.1"/><circle cx="234.3" cy="756.9" r="4.1"/><circle cx="239.8" cy="758.6" r="4.1"/><circle cx="245.2" cy="760.4" r="4.1"/><circle cx="250.6" cy="762.0" r="4.1"/><circle cx="256.1" cy="763.6" r="4.1"/><circle cx="261.5" cy="765.2" r="4.1"/><circle cx="267.0" cy="766.7" r="4.1"/><circle cx="272.4" cy="768.1" r="4.1"/><circle cx="277.8" cy="769.5" r="4.1"/><circle cx="283.3" cy="770.9" r="4.1"/><circle cx="165.8" cy="730.5" r="4.1"/><circle cx="171.2" cy="734.0" r="4.1"/><circle cx="176.6" cy="737.2" r="4.1"/><circle cx="182.1" cy="740.3" r="4.1"/><circle cx="187.5" cy="743.1" r="4.1"/><circle cx="193.0" cy="745.8" r="4.1"/><circle cx="198.4" cy="748.4" r="4.1"/><circle cx="203.8" cy="750.8" r="4.1"/><circle cx="209.3" cy="753.1" r="4.1"/><circle cx="214.7" cy="755.3" r="4.1"/><circle cx="220.2" cy="757.4" r="4.1"/><circle cx="225.6" cy="759.5" r="4.1"/><circle cx="231.0" cy="761.4" r="4.1"/><circle cx="236.5" cy="763.3" r="4.1"/><circle cx="241.9" cy="765.1" r="4.1"/><circle cx="247.3" cy="766.8" r="4.1"/><circle cx="252.8" cy="768.5" r="4.1"/><circle cx="258.2" cy="770.1" r="4.1"/><circle cx="263.7" cy="771.6" r="4.1"/><circle cx="269.1" cy="773.1" r="4.1"/><circle cx="274.5" cy="774.6" r="4.1"/><circle cx="280.0" cy="776.0" r="4.1"/><circle cx="285.4" cy="777.4" r="4.1"/><circle cx="167.9" cy="737.8" r="4.1"/><circle cx="173.3" cy="741.0" r="4.1"/><circle cx="178.8" cy="744.1" r="4.1"/><circle cx="184.2" cy="746.9" r="4.1"/><circle cx="189.7" cy="749.6" r="4.1"/><circle cx="195.1" cy="752.1" r="4.1"/><circle cx="200.5" cy="754.6" r="4.1"/><circle cx="206.0" cy="756.8" r="4.1"/><circle cx="211.4" cy="759.0" r="4.1"/><circle cx="216.8" cy="761.1" r="4.1"/><circle cx="222.3" cy="763.1" r="4.1"/><circle cx="227.7" cy="765.0" r="4.1"/><circle cx="233.2" cy="766.8" r="4.1"/><circle cx="238.6" cy="768.6" r="4.1"/><circle cx="244.0" cy="770.3" r="4.1"/><circle cx="249.5" cy="771.9" r="4.1"/><circle cx="254.9" cy="773.5" r="4.1"/><circle cx="260.4" cy="775.0" r="4.1"/><circle cx="265.8" cy="776.5" r="4.1"/><circle cx="271.2" cy="777.9" r="4.1"/><circle cx="276.7" cy="779.3" r="4.1"/><circle cx="282.1" cy="780.6" r="4.1"/><circle cx="287.6" cy="782.0" r="4.1"/><circle cx="170.0" cy="744.1" r="4.1"/><circle cx="175.5" cy="747.3" r="4.1"/><circle cx="180.9" cy="750.2" r="4.1"/><circle cx="186.4" cy="753.0" r="4.1"/><circle cx="191.8" cy="755.6" r="4.1"/><circle cx="197.2" cy="758.1" r="4.1"/><circle cx="202.7" cy="760.5" r="4.1"/><circle cx="208.1" cy="762.7" r="4.1"/><circle cx="213.5" cy="764.8" r="4.1"/><circle cx="219.0" cy="766.9" r="4.1"/><circle cx="224.4" cy="768.8" r="4.1"/><circle cx="229.9" cy="770.7" r="4.1"/><circle cx="235.3" cy="772.5" r="4.1"/><circle cx="240.7" cy="774.2" r="4.1"/><circle cx="246.2" cy="775.9" r="4.1"/><circle cx="251.6" cy="777.5" r="4.1"/><circle cx="257.1" cy="779.1" r="4.1"/><circle cx="262.5" cy="780.6" r="4.1"/><circle cx="267.9" cy="782.0" r="4.1"/><circle cx="273.4" cy="783.5" r="4.1"/><circle cx="278.8" cy="784.8" r="4.1"/><circle cx="284.3" cy="786.2" r="4.1"/><circle cx="166.7" cy="756.1" r="4.1"/><circle cx="172.2" cy="759.1" r="4.1"/><circle cx="177.6" cy="761.9" r="4.1"/><circle cx="183.0" cy="764.5" r="4.1"/><circle cx="188.5" cy="767.0" r="4.1"/><circle cx="193.9" cy="769.3" r="4.1"/><circle cx="199.4" cy="771.5" r="4.1"/><circle cx="204.8" cy="773.6" r="4.1"/><circle cx="210.2" cy="775.6" r="4.1"/><circle cx="215.7" cy="777.6" r="4.1"/><circle cx="221.1" cy="779.4" r="4.1"/><circle cx="226.6" cy="781.1" r="4.1"/><circle cx="232.0" cy="782.8" r="4.1"/><circle cx="237.4" cy="784.4" r="4.1"/><circle cx="242.9" cy="786.0" r="4.1"/><circle cx="248.3" cy="787.5" r="4.1"/><circle cx="253.8" cy="788.9" r="4.1"/><circle cx="259.2" cy="790.3" r="4.1"/><circle cx="264.6" cy="791.7" r="4.1"/><circle cx="270.1" cy="793.0" r="4.1"/><circle cx="275.5" cy="794.3" r="4.1"/><circle cx="281.0" cy="795.5" r="4.1"/><circle cx="286.4" cy="796.7" r="4.1"/><circle cx="168.9" cy="761.4" r="4.1"/><circle cx="174.3" cy="764.5" r="4.1"/><circle cx="179.7" cy="767.3" r="4.1"/><circle cx="185.2" cy="770.0" r="4.1"/><circle cx="190.6" cy="772.5" r="4.1"/><circle cx="196.1" cy="774.9" r="4.1"/><circle cx="201.5" cy="777.2" r="4.1"/><circle cx="206.9" cy="779.4" r="4.1"/><circle cx="212.4" cy="781.4" r="4.1"/><circle cx="217.8" cy="783.4" r="4.1"/><circle cx="223.3" cy="785.3" r="4.1"/><circle cx="228.7" cy="787.1" r="4.1"/><circle cx="234.1" cy="788.8" r="4.1"/><circle cx="239.6" cy="790.5" r="4.1"/><circle cx="245.0" cy="792.1" r="4.1"/><circle cx="250.5" cy="793.6" r="4.1"/><circle cx="255.9" cy="795.1" r="4.1"/><circle cx="261.3" cy="796.6" r="4.1"/><circle cx="266.8" cy="798.0" r="4.1"/><circle cx="272.2" cy="799.3" r="4.1"/><circle cx="277.6" cy="800.7" r="4.1"/><circle cx="283.1" cy="801.9" r="4.1"/><circle cx="165.6" cy="763.4" r="4.1"/><circle cx="171.0" cy="766.8" r="4.1"/><circle cx="176.4" cy="770.0" r="4.1"/><circle cx="181.9" cy="773.0" r="4.1"/><circle cx="187.3" cy="775.8" r="4.1"/><circle cx="192.8" cy="778.4" r="4.1"/><circle cx="198.2" cy="780.9" r="4.1"/><circle cx="203.6" cy="783.3" r="4.1"/><circle cx="209.1" cy="785.6" r="4.1"/><circle cx="214.5" cy="787.7" r="4.1"/><circle cx="220.0" cy="789.8" r="4.1"/><circle cx="225.4" cy="791.8" r="4.1"/><circle cx="230.8" cy="793.7" r="4.1"/><circle cx="236.3" cy="795.5" r="4.1"/><circle cx="241.7" cy="797.3" r="4.1"/><circle cx="247.2" cy="799.0" r="4.1"/><circle cx="252.6" cy="800.6" r="4.1"/><circle cx="258.0" cy="802.2" r="4.1"/><circle cx="263.5" cy="803.7" r="4.1"/><circle cx="268.9" cy="805.2" r="4.1"/><circle cx="274.3" cy="806.6" r="4.1"/><circle cx="279.8" cy="808.0" r="4.1"/><circle cx="285.2" cy="809.4" r="4.1"/><circle cx="167.7" cy="768.7" r="4.1"/><circle cx="173.1" cy="772.2" r="4.1"/><circle cx="178.6" cy="775.4" r="4.1"/><circle cx="184.0" cy="778.5" r="4.1"/><circle cx="189.5" cy="781.3" r="4.1"/><circle cx="194.9" cy="784.0" r="4.1"/><circle cx="200.3" cy="786.6" r="4.1"/><circle cx="205.8" cy="789.0" r="4.1"/><circle cx="211.2" cy="791.4" r="4.1"/><circle cx="216.7" cy="793.6" r="4.1"/><circle cx="222.1" cy="795.7" r="4.1"/><circle cx="227.5" cy="797.8" r="4.1"/><circle cx="233.0" cy="799.7" r="4.1"/><circle cx="238.4" cy="801.6" r="4.1"/><circle cx="243.8" cy="803.4" r="4.1"/><circle cx="249.3" cy="805.2" r="4.1"/><circle cx="254.7" cy="806.8" r="4.1"/><circle cx="260.2" cy="808.5" r="4.1"/><circle cx="265.6" cy="810.0" r="4.1"/><circle cx="271.0" cy="811.6" r="4.1"/><circle cx="276.5" cy="813.1" r="4.1"/><circle cx="281.9" cy="814.5" r="4.1"/><circle cx="287.4" cy="815.9" r="4.1"/><circle cx="169.8" cy="773.0" r="4.1"/><circle cx="175.3" cy="776.6" r="4.1"/><circle cx="180.7" cy="780.0" r="4.1"/><circle cx="186.2" cy="783.2" r="4.1"/><circle cx="191.6" cy="786.2" r="4.1"/><circle cx="197.0" cy="789.0" r="4.1"/><circle cx="202.5" cy="791.7" r="4.1"/><circle cx="207.9" cy="794.2" r="4.1"/><circle cx="213.4" cy="796.7" r="4.1"/><circle cx="218.8" cy="799.0" r="4.1"/><circle cx="224.2" cy="801.2" r="4.1"/><circle cx="229.7" cy="803.4" r="4.1"/><circle cx="235.1" cy="805.4" r="4.1"/><circle cx="240.5" cy="807.4" r="4.1"/><circle cx="246.0" cy="809.3" r="4.1"/><circle cx="251.4" cy="811.1" r="4.1"/><circle cx="256.9" cy="812.9" r="4.1"/><circle cx="262.3" cy="814.6" r="4.1"/><circle cx="267.7" cy="816.3" r="4.1"/><circle cx="273.2" cy="817.9" r="4.1"/><circle cx="278.6" cy="819.5" r="4.1"/><circle cx="284.1" cy="821.0" r="4.1"/><circle cx="168.3" cy="764.0" r="4.1"/><circle cx="173.7" cy="770.5" r="4.1"/><circle cx="179.2" cy="776.6" r="4.1"/><circle cx="184.6" cy="782.3" r="4.1"/><circle cx="190.0" cy="787.7" r="4.1"/><circle cx="195.5" cy="792.7" r="4.1"/><circle cx="200.9" cy="797.5" r="4.1"/><circle cx="206.4" cy="802.1" r="4.1"/><circle cx="211.8" cy="806.5" r="4.1"/><circle cx="217.2" cy="810.6" r="4.1"/><circle cx="222.7" cy="814.6" r="4.1"/><circle cx="228.1" cy="818.5" r="4.1"/><circle cx="233.6" cy="822.1" r="4.1"/><circle cx="239.0" cy="825.6" r="4.1"/><circle cx="171.2" cy="700.0" r="4.1"/><circle cx="177.0" cy="704.0" r="4.1"/><circle cx="182.9" cy="707.7" r="4.1"/><circle cx="188.7" cy="711.2" r="4.1"/><circle cx="194.5" cy="714.5" r="4.1"/><circle cx="200.3" cy="717.6" r="4.1"/><circle cx="206.2" cy="720.5" r="4.1"/><circle cx="212.0" cy="723.3" r="4.1"/><circle cx="217.8" cy="725.9" r="4.1"/><circle cx="223.6" cy="728.4" r="4.1"/><circle cx="229.5" cy="730.9" r="4.1"/><circle cx="235.3" cy="733.2" r="4.1"/><circle cx="241.1" cy="735.4" r="4.1"/><circle cx="247.0" cy="737.5" r="4.1"/><circle cx="252.8" cy="739.6" r="4.1"/><circle cx="258.6" cy="741.6" r="4.1"/><circle cx="264.4" cy="743.5" r="4.1"/><circle cx="270.3" cy="745.3" r="4.1"/><circle cx="276.1" cy="747.1" r="4.1"/><circle cx="281.9" cy="748.9" r="4.1"/><circle cx="287.8" cy="750.5" r="4.1"/><circle cx="293.6" cy="752.2" r="4.1"/><circle cx="299.4" cy="753.7" r="4.1"/><circle cx="305.2" cy="755.3" r="4.1"/><circle cx="311.1" cy="756.8" r="4.1"/><circle cx="316.9" cy="758.2" r="4.1"/><circle cx="322.7" cy="759.7" r="4.1"/><circle cx="328.5" cy="761.0" r="4.1"/><circle cx="334.4" cy="762.4" r="4.1"/><circle cx="340.2" cy="763.7" r="4.1"/><circle cx="346.0" cy="765.0" r="4.1"/><circle cx="171.2" cy="706.0" r="4.1"/><circle cx="177.0" cy="709.9" r="4.1"/><circle cx="182.9" cy="713.6" r="4.1"/><circle cx="188.7" cy="717.0" r="4.1"/><circle cx="194.5" cy="720.2" r="4.1"/><circle cx="200.3" cy="723.3" r="4.1"/><circle cx="206.2" cy="726.2" r="4.1"/><circle cx="212.0" cy="728.9" r="4.1"/><circle cx="217.8" cy="731.5" r="4.1"/><circle cx="223.6" cy="734.0" r="4.1"/><circle cx="229.5" cy="736.4" r="4.1"/><circle cx="235.3" cy="738.7" r="4.1"/><circle cx="241.1" cy="740.9" r="4.1"/><circle cx="247.0" cy="743.0" r="4.1"/><circle cx="252.8" cy="745.0" r="4.1"/><circle cx="258.6" cy="746.9" r="4.1"/><circle cx="264.4" cy="748.8" r="4.1"/><circle cx="270.3" cy="750.6" r="4.1"/><circle cx="276.1" cy="752.4" r="4.1"/><circle cx="281.9" cy="754.1" r="4.1"/><circle cx="287.8" cy="755.8" r="4.1"/><circle cx="293.6" cy="757.4" r="4.1"/><circle cx="299.4" cy="758.9" r="4.1"/><circle cx="305.2" cy="760.4" r="4.1"/><circle cx="311.1" cy="761.9" r="4.1"/><circle cx="316.9" cy="763.3" r="4.1"/><circle cx="322.7" cy="764.7" r="4.1"/><circle cx="328.5" cy="766.1" r="4.1"/><circle cx="334.4" cy="767.4" r="4.1"/><circle cx="340.2" cy="768.7" r="4.1"/><circle cx="346.0" cy="770.0" r="4.1"/><circle cx="171.2" cy="722.0" r="4.1"/><circle cx="177.0" cy="725.6" r="4.1"/><circle cx="182.9" cy="728.9" r="4.1"/><circle cx="188.7" cy="732.0" r="4.1"/><circle cx="194.5" cy="734.9" r="4.1"/><circle cx="200.3" cy="737.7" r="4.1"/><circle cx="206.2" cy="740.3" r="4.1"/><circle cx="212.0" cy="742.8" r="4.1"/><circle cx="217.8" cy="745.1" r="4.1"/><circle cx="223.6" cy="747.4" r="4.1"/><circle cx="229.5" cy="749.5" r="4.1"/><circle cx="235.3" cy="751.6" r="4.1"/><circle cx="241.1" cy="753.6" r="4.1"/><circle cx="247.0" cy="755.5" r="4.1"/><circle cx="252.8" cy="757.3" r="4.1"/><circle cx="258.6" cy="759.1" r="4.1"/><circle cx="264.4" cy="760.8" r="4.1"/><circle cx="270.3" cy="762.4" r="4.1"/><circle cx="276.1" cy="764.0" r="4.1"/><circle cx="281.9" cy="765.6" r="4.1"/><circle cx="287.8" cy="767.1" r="4.1"/><circle cx="293.6" cy="768.5" r="4.1"/><circle cx="299.4" cy="770.0" r="4.1"/><circle cx="305.2" cy="771.3" r="4.1"/><circle cx="311.1" cy="772.7" r="4.1"/><circle cx="316.9" cy="774.0" r="4.1"/><circle cx="322.7" cy="775.2" r="4.1"/><circle cx="328.5" cy="776.5" r="4.1"/><circle cx="334.4" cy="777.7" r="4.1"/><circle cx="340.2" cy="778.9" r="4.1"/><circle cx="346.0" cy="780.0" r="4.1"/><circle cx="171.2" cy="720.0" r="4.1"/><circle cx="177.0" cy="725.7" r="4.1"/><circle cx="182.9" cy="731.0" r="4.1"/><circle cx="188.7" cy="736.0" r="4.1"/><circle cx="194.5" cy="740.6" r="4.1"/><circle cx="200.3" cy="745.1" r="4.1"/><circle cx="206.2" cy="749.2" r="4.1"/><circle cx="212.0" cy="753.2" r="4.1"/><circle cx="217.8" cy="757.0" r="4.1"/><circle cx="223.6" cy="760.6" r="4.1"/><circle cx="229.5" cy="764.0" r="4.1"/><circle cx="235.3" cy="767.3" r="4.1"/><circle cx="241.1" cy="770.5" r="4.1"/><circle cx="247.0" cy="773.5" r="4.1"/><circle cx="252.8" cy="776.5" r="4.1"/><circle cx="258.6" cy="779.3" r="4.1"/><circle cx="264.4" cy="782.0" r="4.1"/><circle cx="270.3" cy="784.7" r="4.1"/><circle cx="276.1" cy="787.2" r="4.1"/><circle cx="281.9" cy="789.7" r="4.1"/><circle cx="287.8" cy="792.1" r="4.1"/><circle cx="293.6" cy="794.4" r="4.1"/><circle cx="299.4" cy="796.7" r="4.1"/><circle cx="305.2" cy="798.9" r="4.1"/><circle cx="311.1" cy="801.0" r="4.1"/><circle cx="316.9" cy="803.1" r="4.1"/><circle cx="322.7" cy="805.1" r="4.1"/><circle cx="328.5" cy="807.1" r="4.1"/><circle cx="334.4" cy="809.0" r="4.1"/><circle cx="340.2" cy="810.9" r="4.1"/><circle cx="346.0" cy="812.7" r="4.1"/><circle cx="351.9" cy="814.5" r="4.1"/><circle cx="357.7" cy="816.3" r="4.1"/><circle cx="363.5" cy="818.0" r="4.1"/><circle cx="369.3" cy="819.7" r="4.1"/><circle cx="375.2" cy="821.3" r="4.1"/><circle cx="381.0" cy="822.9" r="4.1"/></g>
<path d="M131.6 676.8 L132.1 677.6 L132.6 678.4 L133.1 679.3 L133.6 680.1 L134.1 680.9 L134.6 681.7 L135.2 682.5 L135.7 683.4 L136.3 684.2 L136.8 685.0 L137.4 685.8 L137.9 686.6 L138.5 687.4 L139.1 688.3 L139.7 689.1 L140.3 689.9 L140.9 690.7 L141.5 691.5 L142.2 692.4 L142.8 693.2 L143.4 694.0 L144.1 694.8 L144.7 695.6 L145.4 696.5 L146.1 697.3 L146.8 698.1 L147.4 698.9 L148.1 699.7 L148.9 700.5 L149.6 701.4 L150.3 702.2 L151.0 703.0 L151.8 703.8 L152.5 704.6 L153.3 705.5 L154.1 706.3 L154.9 707.1 L155.7 707.9 L156.5 708.7 L157.3 709.6 L158.1 710.4 L159.0 711.2 L159.8 712.0 L160.7 712.8 L161.5 713.6 L162.4 714.5 L163.3 715.3 L164.2 716.1 L165.2 716.9 L166.1 717.7 L167.0 718.6 L168.0 719.4 L168.9 720.2 L169.9 721.0 L170.9 721.8 L171.9 722.7 L172.9 723.5 L174.0 724.3 L175.0 725.1 L176.1 725.9 L177.2 726.7 L178.2 727.6 L179.3 728.4 L180.5 729.2 L181.6 730.0 L182.7 730.8 L183.9 731.7 L185.1 732.5 L186.2 733.3 L187.5 734.1 L188.7 734.9 L189.9 735.8 L191.2 736.6 L192.4 737.4 L193.7 738.2 L195.0 739.0 L196.3 739.8 L197.7 740.7 L199.0 741.5 L200.4 742.3 L201.8 743.1 L203.2 743.9 L204.6 744.8 L206.1 745.6 L207.5 746.4 L209.0 747.2 L210.5 748.0 L212.0 748.9 L213.6 749.7 L215.1 750.5 L216.7 751.3 L218.3 752.1 L219.9 752.9 L221.6 753.8 L223.2 754.6 L224.9 755.4 L226.6 756.2 L228.3 757.0 L230.1 757.9 L231.9 758.7 L233.7 759.5 L235.5 760.3 L237.3 761.1 L239.2 762.0 L241.1 762.8 L243.0 763.6 L245.0 764.4 L246.9 765.2 L248.9 766.0 L250.9 766.9 L253.0 767.7 L255.0 768.5 L257.1 769.3 L259.3 770.1 L261.4 771.0 L263.6 771.8 L265.8 772.6 L268.1 773.4 L270.3 774.2 L272.6 775.1 L274.9 775.9 L277.3 776.7 L279.7 777.5 L282.1 778.3 L284.6 779.1 L287.0 780.0 L289.5 780.8 L292.1 781.6 L294.7 782.4 L297.3 783.2 L299.9 784.1 L302.6 784.9 L305.3 785.7 L308.1 786.5 L310.9 787.3 L313.7 788.2 L316.6 789.0 L319.4 789.8 L322.4 790.6 L325.4 791.4 L328.4 792.3 L331.4 793.1 L334.5 793.9 L337.6 794.7 L340.8 795.5 L344.0 796.3 L347.3 797.2 L350.6 798.0 L353.9 798.8 L357.3 799.6 L360.7 800.4 L364.2 801.3 L367.7 802.1 L371.3 802.9 L374.9 803.7 L378.5 804.5 L382.2 805.4 L386.0 806.2 L389.8 807.0 L393.6 807.8 L397.5 808.6 L401.5 809.4 L405.5 810.3 L409.5 811.1 L413.6 811.9 L417.8 812.7 L422.0 813.5 L426.3 814.4 L430.6 815.2 L435.0 816.0 L439.4 816.8 L443.9 817.6 L448.4 818.5 L453.1 819.3 L457.7 820.1 L462.5 820.9 L467.2 821.7 L472.1 822.5 L477.0 823.4 L482.0 824.2" fill="none" stroke="#25e032" stroke-width="4"/>
<path d="M131.6 645.0 L132.1 646.8 L132.6 648.6 L133.1 650.4 L133.6 652.1 L134.1 653.8 L134.6 655.5 L135.2 657.2 L135.7 658.9 L136.3 660.6 L136.8 662.2 L137.4 663.9 L137.9 665.5 L138.5 667.1 L139.1 668.6 L139.7 670.2 L140.3 671.7 L140.9 673.3 L141.5 674.8 L142.2 676.3 L142.8 677.7 L143.4 679.2 L144.1 680.6 L144.7 682.1 L145.4 683.5 L146.1 684.9 L146.8 686.3 L147.4 687.6 L148.1 689.0 L148.9 690.3 L149.6 691.6 L150.3 692.9 L151.0 694.2 L151.8 695.5 L152.5 696.8 L153.3 698.0 L154.1 699.3 L154.9 700.5 L155.7 701.7 L156.5 702.9 L157.3 704.1 L158.1 705.3 L159.0 706.4 L159.8 707.6 L160.7 708.7 L161.5 709.8 L162.4 710.9 L163.3 712.1 L164.2 713.1 L165.2 714.2 L166.1 715.3 L167.0 716.4 L168.0 717.4 L168.9 718.5 L169.9 719.5 L170.9 720.5 L171.9 721.5 L172.9 722.6 L174.0 723.6 L175.0 724.6 L176.1 725.5 L177.2 726.5 L178.2 727.5 L179.3 728.5 L180.5 729.4 L181.6 730.4 L182.7 731.3 L183.9 732.2 L185.1 733.2 L186.2 734.1 L187.5 735.0 L188.7 735.9 L189.9 736.8 L191.2 737.7 L192.4 738.6 L193.7 739.5 L195.0 740.4 L196.3 741.3 L197.7 742.2 L199.0 743.0 L200.4 743.9 L201.8 744.8 L203.2 745.6 L204.6 746.5 L206.1 747.3 L207.5 748.2 L209.0 749.0 L210.5 749.9 L212.0 750.7 L213.6 751.5 L215.1 752.4 L216.7 753.2 L218.3 754.0 L219.9 754.9 L221.6 755.7 L223.2 756.5 L224.9 757.3 L226.6 758.1 L228.3 758.9 L230.1 759.7 L231.9 760.5 L233.7 761.3 L235.5 762.2 L237.3 763.0 L239.2 763.7 L241.1 764.5 L243.0 765.3 L245.0 766.1 L246.9 766.9 L248.9 767.7 L250.9 768.5 L253.0 769.3 L255.0 770.1 L257.1 770.9 L259.3 771.6 L261.4 772.4 L263.6 773.2 L265.8 774.0 L268.1 774.7 L270.3 775.5 L272.6 776.3 L274.9 777.1 L277.3 777.8 L279.7 778.6 L282.1 779.4 L284.6 780.2 L287.0 780.9 L289.5 781.7 L292.1 782.5 L294.7 783.2 L297.3 784.0 L299.9 784.8 L302.6 785.5 L305.3 786.3 L308.1 787.0 L310.9 787.8 L313.7 788.6 L316.6 789.3 L319.4 790.1 L322.4 790.8 L325.4 791.6 L328.4 792.4 L331.4 793.1 L334.5 793.9 L337.6 794.6 L340.8 795.4 L344.0 796.2 L347.3 796.9 L350.6 797.7 L353.9 798.4 L357.3 799.2 L360.7 799.9 L364.2 800.7 L367.7 801.4 L371.3 802.2 L374.9 802.9 L378.5 803.7 L382.2 804.4 L386.0 805.2 L389.8 805.9 L393.6 806.7 L397.5 807.5 L401.5 808.2 L405.5 809.0 L409.5 809.7 L413.6 810.5 L417.8 811.2 L422.0 812.0 L426.3 812.7 L430.6 813.5 L435.0 814.2 L439.4 815.0 L443.9 815.7 L448.4 816.5 L453.1 817.2 L457.7 817.9 L462.5 818.7 L467.2 819.4 L472.1 820.2 L477.0 820.9 L482.0 821.7" fill="none" stroke="#000" stroke-width="4.4"/>
<path d="M131.6 687.7 L132.1 688.5 L132.6 689.2 L133.1 690.0 L133.6 690.7 L134.1 691.5 L134.6 692.2 L135.2 693.0 L135.7 693.7 L136.3 694.4 L136.8 695.2 L137.4 695.9 L137.9 696.7 L138.5 697.4 L139.1 698.2 L139.7 698.9 L140.3 699.7 L140.9 700.4 L141.5 701.1 L142.2 701.9 L142.8 702.6 L143.4 703.4 L144.1 704.1 L144.7 704.9 L145.4 705.6 L146.1 706.4 L146.8 707.1 L147.4 707.9 L148.1 708.6 L148.9 709.3 L149.6 710.1 L150.3 710.8 L151.0 711.6 L151.8 712.3 L152.5 713.1 L153.3 713.8 L154.1 714.6 L154.9 715.3 L155.7 716.0 L156.5 716.8 L157.3 717.5 L158.1 718.3 L159.0 719.0 L159.8 719.8 L160.7 720.5 L161.5 721.3 L162.4 722.0 L163.3 722.7 L164.2 723.5 L165.2 724.2 L166.1 725.0 L167.0 725.7 L168.0 726.5 L168.9 727.2 L169.9 728.0 L170.9 728.7 L171.9 729.4 L172.9 730.2 L174.0 730.9 L175.0 731.7 L176.1 732.4 L177.2 733.2 L178.2 733.9 L179.3 734.7 L180.5 735.4 L181.6 736.1 L182.7 736.9 L183.9 737.6 L185.1 738.4 L186.2 739.1 L187.5 739.9 L188.7 740.6 L189.9 741.4 L191.2 742.1 L192.4 742.8 L193.7 743.6 L195.0 744.3 L196.3 745.1 L197.7 745.8 L199.0 746.6 L200.4 747.3 L201.8 748.1 L203.2 748.8 L204.6 749.6 L206.1 750.3 L207.5 751.0 L209.0 751.8 L210.5 752.5 L212.0 753.3 L213.6 754.0 L215.1 754.8 L216.7 755.5 L218.3 756.3 L219.9 757.0 L221.6 757.7 L223.2 758.5 L224.9 759.2 L226.6 760.0 L228.3 760.7 L230.1 761.5 L231.9 762.2 L233.7 763.0 L235.5 763.7 L237.3 764.4 L239.2 765.2 L241.1 765.9 L243.0 766.7 L245.0 767.4 L246.9 768.2 L248.9 768.9 L250.9 769.7 L253.0 770.4 L255.0 771.1 L257.1 771.9 L259.3 772.6 L261.4 773.4 L263.6 774.1 L265.8 774.9 L268.1 775.6 L270.3 776.4 L272.6 777.1 L274.9 777.8 L277.3 778.6 L279.7 779.3 L282.1 780.1 L284.6 780.8 L287.0 781.6 L289.5 782.3 L292.1 783.1 L294.7 783.8 L297.3 784.5 L299.9 785.3 L302.6 786.0 L305.3 786.8 L308.1 787.5 L310.9 788.3 L313.7 789.0 L316.6 789.8 L319.4 790.5 L322.4 791.2 L325.4 792.0 L328.4 792.7 L331.4 793.5 L334.5 794.2 L337.6 795.0 L340.8 795.7 L344.0 796.5 L347.3 797.2 L350.6 798.0 L353.9 798.7 L357.3 799.4 L360.7 800.2 L364.2 800.9 L367.7 801.7 L371.3 802.4 L374.9 803.2 L378.5 803.9 L382.2 804.7 L386.0 805.4 L389.8 806.1 L393.6 806.9 L397.5 807.6 L401.5 808.4 L405.5 809.1 L409.5 809.9 L413.6 810.6 L417.8 811.4 L422.0 812.1 L426.3 812.8 L430.6 813.6 L435.0 814.3 L439.4 815.1 L443.9 815.8 L448.4 816.6 L453.1 817.3 L457.7 818.1 L462.5 818.8 L467.2 819.5 L472.1 820.3 L477.0 821.0 L482.0 821.8" fill="none" stroke="#000" stroke-width="4.6" stroke-dasharray="14 6"/>
<path d="M131.6 673.2 L132.1 675.8 L132.6 678.4 L133.1 681.0 L133.6 683.6 L134.1 686.2 L134.6 688.8 L135.2 691.4 L135.7 694.0 L136.3 696.6 L136.8 699.2 L137.4 701.8 L137.9 704.4 L138.5 707.0 L139.1 709.6 L139.7 712.2 L140.3 714.8 L140.9 717.4 L141.5 720.0 L142.2 722.6 L142.8 725.2 L143.4 727.8 L144.1 730.4 L144.7 733.0 L145.4 735.6 L146.1 738.2 L146.8 740.8 L147.4 743.4 L148.1 746.0 L148.9 748.6 L149.6 751.2 L150.3 753.8 L151.0 756.4 L151.8 759.0 L152.5 761.6 L153.3 764.2 L154.1 766.8 L154.9 769.4 L155.7 772.0 L156.5 774.6 L157.3 777.2 L158.1 779.8 L159.0 782.4 L159.8 785.0 L160.7 787.6 L161.5 790.2 L162.4 792.8 L163.3 795.4 L164.2 798.0 L165.2 800.6 L166.1 803.2 L167.0 805.8 L168.0 808.4 L168.9 811.0 L169.9 813.6 L170.9 816.2 L171.9 818.8 L172.9 821.4 L174.0 824.0 L175.0 826.6 L176.1 829.2 L177.2 831.8 L178.2 834.4 L179.3 837.0 L180.5 839.6 L181.6 842.2 L182.7 844.8 L183.9 847.4 L185.1 850.0 L186.2 852.6 L187.5 855.2 L188.7 857.8 L189.9 860.4 L191.2 863.0 L192.4 865.6 L193.7 868.2 L195.0 870.8 L196.3 873.4 L197.7 876.0 L199.0 878.6 L200.4 881.2 L201.8 883.8 L203.2 886.4 L204.6 889.0 L206.1 891.6 L207.5 894.2 L209.0 896.8 L210.5 899.4 L212.0 902.0 L213.6 904.6 L215.1 907.2 L216.7 909.8 L218.3 912.4 L219.9 915.0 L221.6 917.6 L223.2 920.2 L224.9 922.8 L226.6 925.4 L228.3 928.0 L230.1 930.6 L231.9 933.2 L233.7 935.8 L235.5 938.4 L237.3 941.0 L239.2 943.6 L241.1 946.2 L243.0 948.8 L245.0 951.4 L246.9 954.0 L248.9 956.6 L250.9 959.2 L253.0 961.8 L255.0 964.4 L257.1 967.0 L259.3 969.6 L261.4 972.2 L263.6 974.8 L265.8 977.4 L268.1 980.0 L270.3 982.6 L272.6 985.2 L274.9 987.8 L277.3 990.4 L279.7 993.0 L282.1 995.6 L284.6 998.2 L287.0 1000.8 L289.5 1003.4 L292.1 1006.0 L294.7 1008.6 L297.3 1011.2 L299.9 1013.8 L302.6 1016.4 L305.3 1019.0 L308.1 1021.6 L310.9 1024.2 L313.7 1026.8 L316.6 1029.4 L319.4 1032.0 L322.4 1034.6 L325.4 1037.2 L328.4 1039.8 L331.4 1042.4 L334.5 1045.0 L337.6 1047.6 L340.8 1050.2 L344.0 1052.8 L347.3 1055.4 L350.6 1058.0 L353.9 1060.6 L357.3 1063.2 L360.7 1065.8 L364.2 1068.4 L367.7 1071.0 L371.3 1073.6 L374.9 1076.2 L378.5 1078.8 L382.2 1081.4 L386.0 1084.0 L389.8 1086.6 L393.6 1089.2 L397.5 1091.8 L401.5 1094.4 L405.5 1097.0 L409.5 1099.6 L413.6 1102.2 L417.8 1104.8 L422.0 1107.4 L426.3 1110.0 L430.6 1112.6 L435.0 1115.2 L439.4 1117.8 L443.9 1120.4 L448.4 1123.0 L453.1 1125.6 L457.7 1128.2 L462.5 1130.8 L467.2 1133.4 L472.1 1136.0 L477.0 1138.6 L482.0 1141.2" fill="none" stroke="#000" stroke-width="4.6" stroke-dasharray="14 6"/>
</g>
<rect x="93.5" y="617.5" width="388.5" height="210.39999999999998" fill="none" stroke="#222" stroke-width="1.5"/>
<path d="M190.6 827.9v-3M190.6 617.5v3" stroke="#111" stroke-width="1.4"/>
<path d="M287.8 827.9v-3M287.8 617.5v3" stroke="#111" stroke-width="1.4"/>
<path d="M384.9 827.9v-3M384.9 617.5v3" stroke="#111" stroke-width="1.4"/>
<path d="M93.5 651.4h4M482.0 651.4h-4" stroke="#111" stroke-width="1.4"/>
<path d="M93.5 656.7h2.5M482.0 656.7h-2.5" stroke="#111" stroke-width="1.4"/>
<path d="M93.5 662.6h2.5M482.0 662.6h-2.5" stroke="#111" stroke-width="1.4"/>
<path d="M93.5 669.4h2.5M482.0 669.4h-2.5" stroke="#111" stroke-width="1.4"/>
<path d="M93.5 677.1h2.5M482.0 677.1h-2.5" stroke="#111" stroke-width="1.4"/>
<path d="M93.5 686.3h2.5M482.0 686.3h-2.5" stroke="#111" stroke-width="1.4"/>
<path d="M93.5 697.6h2.5M482.0 697.6h-2.5" stroke="#111" stroke-width="1.4"/>
<path d="M93.5 712.1h2.5M482.0 712.1h-2.5" stroke="#111" stroke-width="1.4"/>
<path d="M93.5 732.5h2.5M482.0 732.5h-2.5" stroke="#111" stroke-width="1.4"/>
<text x="93.5" y="854.4" text-anchor="middle" class="t">0</text>
<text x="190.6" y="854.4" text-anchor="middle" class="t">500</text>
<text x="287.8" y="854.4" text-anchor="middle" class="t">1000</text>
<text x="384.9" y="854.4" text-anchor="middle" class="t">1500</text>
<text x="482.0" y="854.4" text-anchor="middle" class="t">2000</text>
<text x="77.0" y="660.2" text-anchor="end" class="t">10</text>
<text x="87.3" y="644.6" text-anchor="end" class="s" style="font-size:15.5px">2</text>
<text x="284.8" y="884.5" text-anchor="middle" class="xl">Wavelength [nm]</text>
<g transform="translate(27.0,778.0) rotate(-90)"><text x="-1.6" y="0" style="font-size:23px" class="yl">μ</text><text x="17.5" y="12" style="font-size:17px" class="yl">s</text><text x="29" y="0" style="font-size:23px" class="yl">'</text><text x="38.6" y="0" style="font-size:23px" class="yl">[</text><text x="47" y="0" style="font-size:23px" class="yl">cm</text><text x="77.6" y="-11.5" style="font-size:17px" class="yl">-</text><text x="84.5" y="-11.5" style="font-size:17px" class="yl">1</text><text x="96.8" y="0" style="font-size:23px" class="yl">]</text></g>
<text x="653.5" y="640.1" class="xl">other fibrous tissues</text>
<g clip-path="url(#c21)">
<g fill="none" stroke="#e02020" stroke-width="1.35"><circle cx="705.5" cy="703.5" r="4.1"/><circle cx="717.7" cy="709.6" r="4.1"/><circle cx="719.8" cy="717.7" r="4.1"/><circle cx="720.8" cy="730.0" r="4.1"/><circle cx="720.8" cy="735.0" r="4.1"/><circle cx="729.9" cy="726.9" r="4.1"/><circle cx="740.1" cy="731.0" r="4.1"/><circle cx="744.2" cy="732.0" r="4.1"/><circle cx="750.3" cy="737.0" r="4.1"/><circle cx="756.4" cy="739.1" r="4.1"/><circle cx="764.5" cy="746.2" r="4.1"/><circle cx="772.6" cy="749.3" r="4.1"/><circle cx="780.8" cy="750.3" r="4.1"/><circle cx="788.9" cy="753.3" r="4.1"/><circle cx="794.0" cy="756.4" r="4.1"/><circle cx="809.2" cy="759.4" r="4.1"/><circle cx="750.3" cy="750.3" r="4.1"/><circle cx="750.3" cy="756.4" r="4.1"/><circle cx="750.3" cy="759.4" r="4.1"/><circle cx="789.9" cy="768.6" r="4.1"/><circle cx="789.9" cy="772.6" r="4.1"/><circle cx="798.0" cy="764.5" r="4.1"/><circle cx="819.4" cy="764.5" r="4.1"/><circle cx="810.0" cy="759.7" r="4.1"/><circle cx="821.6" cy="776.1" r="4.1"/><circle cx="830.3" cy="776.1" r="4.1"/></g>
<path d="M653.7 641.2 L654.2 642.2 L654.7 643.3 L655.2 644.3 L655.7 645.4 L656.2 646.4 L656.7 647.5 L657.3 648.5 L657.8 649.6 L658.4 650.6 L658.9 651.7 L659.5 652.7 L660.0 653.8 L660.6 654.8 L661.2 655.9 L661.8 656.9 L662.4 658.0 L663.0 659.0 L663.6 660.1 L664.2 661.1 L664.9 662.2 L665.5 663.2 L666.2 664.2 L666.8 665.3 L667.5 666.3 L668.2 667.4 L668.8 668.4 L669.5 669.5 L670.2 670.5 L670.9 671.6 L671.7 672.6 L672.4 673.7 L673.1 674.7 L673.9 675.8 L674.6 676.8 L675.4 677.9 L676.2 678.9 L677.0 680.0 L677.8 681.0 L678.6 682.1 L679.4 683.1 L680.2 684.2 L681.0 685.2 L681.9 686.3 L682.8 687.3 L683.6 688.4 L684.5 689.4 L685.4 690.5 L686.3 691.5 L687.2 692.5 L688.2 693.6 L689.1 694.6 L690.1 695.7 L691.0 696.7 L692.0 697.8 L693.0 698.8 L694.0 699.9 L695.0 700.9 L696.1 702.0 L697.1 703.0 L698.2 704.1 L699.2 705.1 L700.3 706.2 L701.4 707.2 L702.5 708.3 L703.7 709.3 L704.8 710.4 L706.0 711.4 L707.1 712.5 L708.3 713.5 L709.5 714.6 L710.8 715.6 L712.0 716.7 L713.2 717.7 L714.5 718.8 L715.8 719.8 L717.1 720.8 L718.4 721.9 L719.7 722.9 L721.1 724.0 L722.5 725.0 L723.9 726.1 L725.3 727.1 L726.7 728.2 L728.1 729.2 L729.6 730.3 L731.1 731.3 L732.6 732.4 L734.1 733.4 L735.6 734.5 L737.2 735.5 L738.8 736.6 L740.4 737.6 L742.0 738.7 L743.6 739.7 L745.3 740.8 L747.0 741.8 L748.7 742.9 L750.4 743.9 L752.2 745.0 L753.9 746.0 L755.7 747.1 L757.6 748.1 L759.4 749.1 L761.3 750.2 L763.2 751.2 L765.1 752.3 L767.0 753.3 L769.0 754.4 L771.0 755.4 L773.0 756.5 L775.0 757.5 L777.1 758.6 L779.2 759.6 L781.3 760.7 L783.5 761.7 L785.7 762.8 L787.9 763.8 L790.1 764.9 L792.4 765.9 L794.7 767.0 L797.0 768.0 L799.4 769.1 L801.7 770.1 L804.2 771.2 L806.6 772.2 L809.1 773.3 L811.6 774.3 L814.1 775.4 L816.7 776.4 L819.3 777.4 L822.0 778.5 L824.7 779.5 L827.4 780.6 L830.1 781.6 L832.9 782.7 L835.7 783.7 L838.6 784.8 L841.5 785.8 L844.4 786.9 L847.4 787.9 L850.4 789.0 L853.5 790.0 L856.5 791.1 L859.7 792.1 L862.8 793.2 L866.1 794.2 L869.3 795.3 L872.6 796.3 L875.9 797.4 L879.3 798.4 L882.7 799.5 L886.2 800.5 L889.7 801.6 L893.3 802.6 L896.9 803.7 L900.6 804.7 L904.3 805.7 L908.0 806.8 L911.8 807.8 L915.6 808.9 L919.5 809.9 L923.5 811.0 L927.5 812.0 L931.5 813.1 L935.6 814.1 L939.8 815.2 L944.0 816.2 L948.3 817.3 L952.6 818.3 L957.0 819.4 L961.4 820.4 L965.9 821.5 L970.5 822.5 L975.1 823.6 L979.7 824.6 L984.5 825.7 L989.3 826.7 L994.1 827.8 L999.0 828.8 L1004.0 829.9" fill="none" stroke="#25e032" stroke-width="4"/>
<path d="M653.7 562.0 L654.2 564.5 L654.7 567.0 L655.2 569.5 L655.7 572.0 L656.2 574.4 L656.7 576.9 L657.3 579.4 L657.8 581.8 L658.4 584.3 L658.9 586.8 L659.5 589.2 L660.0 591.6 L660.6 594.1 L661.2 596.5 L661.8 598.9 L662.4 601.3 L663.0 603.7 L663.6 606.1 L664.2 608.5 L664.9 610.9 L665.5 613.3 L666.2 615.6 L666.8 618.0 L667.5 620.3 L668.2 622.7 L668.8 625.0 L669.5 627.3 L670.2 629.6 L670.9 631.9 L671.7 634.2 L672.4 636.4 L673.1 638.7 L673.9 640.9 L674.6 643.2 L675.4 645.4 L676.2 647.6 L677.0 649.8 L677.8 651.9 L678.6 654.1 L679.4 656.2 L680.2 658.4 L681.0 660.5 L681.9 662.6 L682.8 664.6 L683.6 666.7 L684.5 668.7 L685.4 670.7 L686.3 672.7 L687.2 674.7 L688.2 676.7 L689.1 678.6 L690.1 680.5 L691.0 682.4 L692.0 684.3 L693.0 686.2 L694.0 688.0 L695.0 689.8 L696.1 691.6 L697.1 693.4 L698.2 695.2 L699.2 696.9 L700.3 698.6 L701.4 700.3 L702.5 701.9 L703.7 703.6 L704.8 705.2 L706.0 706.8 L707.1 708.3 L708.3 709.9 L709.5 711.4 L710.8 712.9 L712.0 714.3 L713.2 715.8 L714.5 717.2 L715.8 718.6 L717.1 720.0 L718.4 721.3 L719.7 722.6 L721.1 723.9 L722.5 725.2 L723.9 726.5 L725.3 727.7 L726.7 728.9 L728.1 730.1 L729.6 731.3 L731.1 732.4 L732.6 733.6 L734.1 734.7 L735.6 735.8 L737.2 736.8 L738.8 737.9 L740.4 738.9 L742.0 739.9 L743.6 740.9 L745.3 741.9 L747.0 742.8 L748.7 743.7 L750.4 744.7 L752.2 745.6 L753.9 746.4 L755.7 747.3 L757.6 748.2 L759.4 749.0 L761.3 749.8 L763.2 750.6 L765.1 751.4 L767.0 752.2 L769.0 753.0 L771.0 753.7 L773.0 754.5 L775.0 755.2 L777.1 755.9 L779.2 756.6 L781.3 757.3 L783.5 758.0 L785.7 758.7 L787.9 759.3 L790.1 760.0 L792.4 760.6 L794.7 761.3 L797.0 761.9 L799.4 762.5 L801.7 763.1 L804.2 763.7 L806.6 764.3 L809.1 764.9 L811.6 765.5 L814.1 766.1 L816.7 766.7 L819.3 767.2 L822.0 767.8 L824.7 768.3 L827.4 768.9 L830.1 769.4 L832.9 769.9 L835.7 770.5 L838.6 771.0 L841.5 771.5 L844.4 772.0 L847.4 772.5 L850.4 773.0 L853.5 773.5 L856.5 774.0 L859.7 774.5 L862.8 775.0 L866.1 775.5 L869.3 776.0 L872.6 776.5 L875.9 777.0 L879.3 777.4 L882.7 777.9 L886.2 778.4 L889.7 778.9 L893.3 779.3 L896.9 779.8 L900.6 780.2 L904.3 780.7 L908.0 781.2 L911.8 781.6 L915.6 782.1 L919.5 782.5 L923.5 783.0 L927.5 783.4 L931.5 783.9 L935.6 784.3 L939.8 784.8 L944.0 785.2 L948.3 785.6 L952.6 786.1 L957.0 786.5 L961.4 786.9 L965.9 787.4 L970.5 787.8 L975.1 788.3 L979.7 788.7 L984.5 789.1 L989.3 789.5 L994.1 790.0 L999.0 790.4 L1004.0 790.8" fill="none" stroke="#000" stroke-width="4.4"/>
<path d="M653.7 717.6 L654.2 718.0 L654.7 718.4 L655.2 718.8 L655.7 719.2 L656.2 719.6 L656.7 720.0 L657.3 720.4 L657.8 720.8 L658.4 721.2 L658.9 721.7 L659.5 722.1 L660.0 722.5 L660.6 722.9 L661.2 723.3 L661.8 723.7 L662.4 724.1 L663.0 724.5 L663.6 724.9 L664.2 725.3 L664.9 725.7 L665.5 726.2 L666.2 726.6 L666.8 727.0 L667.5 727.4 L668.2 727.8 L668.8 728.2 L669.5 728.6 L670.2 729.0 L670.9 729.4 L671.7 729.8 L672.4 730.3 L673.1 730.7 L673.9 731.1 L674.6 731.5 L675.4 731.9 L676.2 732.3 L677.0 732.7 L677.8 733.1 L678.6 733.5 L679.4 733.9 L680.2 734.3 L681.0 734.8 L681.9 735.2 L682.8 735.6 L683.6 736.0 L684.5 736.4 L685.4 736.8 L686.3 737.2 L687.2 737.6 L688.2 738.0 L689.1 738.4 L690.1 738.9 L691.0 739.3 L692.0 739.7 L693.0 740.1 L694.0 740.5 L695.0 740.9 L696.1 741.3 L697.1 741.7 L698.2 742.1 L699.2 742.5 L700.3 742.9 L701.4 743.4 L702.5 743.8 L703.7 744.2 L704.8 744.6 L706.0 745.0 L707.1 745.4 L708.3 745.8 L709.5 746.2 L710.8 746.6 L712.0 747.0 L713.2 747.4 L714.5 747.9 L715.8 748.3 L717.1 748.7 L718.4 749.1 L719.7 749.5 L721.1 749.9 L722.5 750.3 L723.9 750.7 L725.3 751.1 L726.7 751.5 L728.1 752.0 L729.6 752.4 L731.1 752.8 L732.6 753.2 L734.1 753.6 L735.6 754.0 L737.2 754.4 L738.8 754.8 L740.4 755.2 L742.0 755.6 L743.6 756.0 L745.3 756.5 L747.0 756.9 L748.7 757.3 L750.4 757.7 L752.2 758.1 L753.9 758.5 L755.7 758.9 L757.6 759.3 L759.4 759.7 L761.3 760.1 L763.2 760.5 L765.1 761.0 L767.0 761.4 L769.0 761.8 L771.0 762.2 L773.0 762.6 L775.0 763.0 L777.1 763.4 L779.2 763.8 L781.3 764.2 L783.5 764.6 L785.7 765.1 L787.9 765.5 L790.1 765.9 L792.4 766.3 L794.7 766.7 L797.0 767.1 L799.4 767.5 L801.7 767.9 L804.2 768.3 L806.6 768.7 L809.1 769.1 L811.6 769.6 L814.1 770.0 L816.7 770.4 L819.3 770.8 L822.0 771.2 L824.7 771.6 L827.4 772.0 L830.1 772.4 L832.9 772.8 L835.7 773.2 L838.6 773.6 L841.5 774.1 L844.4 774.5 L847.4 774.9 L850.4 775.3 L853.5 775.7 L856.5 776.1 L859.7 776.5 L862.8 776.9 L866.1 777.3 L869.3 777.7 L872.6 778.2 L875.9 778.6 L879.3 779.0 L882.7 779.4 L886.2 779.8 L889.7 780.2 L893.3 780.6 L896.9 781.0 L900.6 781.4 L904.3 781.8 L908.0 782.2 L911.8 782.7 L915.6 783.1 L919.5 783.5 L923.5 783.9 L927.5 784.3 L931.5 784.7 L935.6 785.1 L939.8 785.5 L944.0 785.9 L948.3 786.3 L952.6 786.7 L957.0 787.2 L961.4 787.6 L965.9 788.0 L970.5 788.4 L975.1 788.8 L979.7 789.2 L984.5 789.6 L989.3 790.0 L994.1 790.4 L999.0 790.8 L1004.0 791.3" fill="none" stroke="#000" stroke-width="4.6" stroke-dasharray="14 6"/>
<path d="M653.7 564.3 L654.2 566.9 L654.7 569.5 L655.2 572.1 L655.7 574.7 L656.2 577.3 L656.7 579.9 L657.3 582.5 L657.8 585.1 L658.4 587.7 L658.9 590.3 L659.5 592.9 L660.0 595.5 L660.6 598.1 L661.2 600.7 L661.8 603.3 L662.4 605.9 L663.0 608.5 L663.6 611.1 L664.2 613.7 L664.9 616.3 L665.5 618.9 L666.2 621.5 L666.8 624.1 L667.5 626.7 L668.2 629.3 L668.8 631.9 L669.5 634.5 L670.2 637.1 L670.9 639.7 L671.7 642.3 L672.4 644.9 L673.1 647.5 L673.9 650.1 L674.6 652.7 L675.4 655.4 L676.2 658.0 L677.0 660.6 L677.8 663.2 L678.6 665.8 L679.4 668.4 L680.2 671.0 L681.0 673.6 L681.9 676.2 L682.8 678.8 L683.6 681.4 L684.5 684.0 L685.4 686.6 L686.3 689.2 L687.2 691.8 L688.2 694.4 L689.1 697.0 L690.1 699.6 L691.0 702.2 L692.0 704.8 L693.0 707.4 L694.0 710.0 L695.0 712.6 L696.1 715.2 L697.1 717.8 L698.2 720.4 L699.2 723.0 L700.3 725.6 L701.4 728.2 L702.5 730.8 L703.7 733.4 L704.8 736.0 L706.0 738.6 L707.1 741.2 L708.3 743.8 L709.5 746.4 L710.8 749.0 L712.0 751.6 L713.2 754.2 L714.5 756.8 L715.8 759.4 L717.1 762.0 L718.4 764.6 L719.7 767.2 L721.1 769.8 L722.5 772.4 L723.9 775.0 L725.3 777.6 L726.7 780.2 L728.1 782.8 L729.6 785.4 L731.1 788.0 L732.6 790.6 L734.1 793.2 L735.6 795.8 L737.2 798.4 L738.8 801.0 L740.4 803.6 L742.0 806.2 L743.6 808.8 L745.3 811.4 L747.0 814.0 L748.7 816.6 L750.4 819.2 L752.2 821.8 L753.9 824.4 L755.7 827.0 L757.6 829.6 L759.4 832.2 L761.3 834.8 L763.2 837.4 L765.1 840.0 L767.0 842.6 L769.0 845.2 L771.0 847.8 L773.0 850.4 L775.0 853.0 L777.1 855.6 L779.2 858.2 L781.3 860.8 L783.5 863.4 L785.7 866.0 L787.9 868.6 L790.1 871.2 L792.4 873.8 L794.7 876.4 L797.0 879.0 L799.4 881.6 L801.7 884.2 L804.2 886.8 L806.6 889.4 L809.1 892.0 L811.6 894.6 L814.1 897.2 L816.7 899.8 L819.3 902.4 L822.0 905.0 L824.7 907.6 L827.4 910.2 L830.1 912.8 L832.9 915.4 L835.7 918.0 L838.6 920.6 L841.5 923.2 L844.4 925.8 L847.4 928.4 L850.4 931.0 L853.5 933.6 L856.5 936.2 L859.7 938.8 L862.8 941.4 L866.1 944.0 L869.3 946.6 L872.6 949.2 L875.9 951.8 L879.3 954.4 L882.7 957.0 L886.2 959.6 L889.7 962.2 L893.3 964.8 L896.9 967.4 L900.6 970.0 L904.3 972.6 L908.0 975.2 L911.8 977.8 L915.6 980.4 L919.5 983.0 L923.5 985.6 L927.5 988.2 L931.5 990.8 L935.6 993.4 L939.8 996.0 L944.0 998.6 L948.3 1001.2 L952.6 1003.8 L957.0 1006.4 L961.4 1009.0 L965.9 1011.6 L970.5 1014.2 L975.1 1016.8 L979.7 1019.4 L984.5 1022.0 L989.3 1024.6 L994.1 1027.2 L999.0 1029.8 L1004.0 1032.4" fill="none" stroke="#000" stroke-width="4.6" stroke-dasharray="14 6"/>
</g>
<rect x="615.6" y="617.5" width="388.4" height="210.39999999999998" fill="none" stroke="#222" stroke-width="1.5"/>
<path d="M712.7 827.9v-3M712.7 617.5v3" stroke="#111" stroke-width="1.4"/>
<path d="M809.8 827.9v-3M809.8 617.5v3" stroke="#111" stroke-width="1.4"/>
<path d="M906.9 827.9v-3M906.9 617.5v3" stroke="#111" stroke-width="1.4"/>
<path d="M615.6 651.4h4M1004.0 651.4h-4" stroke="#111" stroke-width="1.4"/>
<path d="M615.6 656.7h2.5M1004.0 656.7h-2.5" stroke="#111" stroke-width="1.4"/>
<path d="M615.6 662.6h2.5M1004.0 662.6h-2.5" stroke="#111" stroke-width="1.4"/>
<path d="M615.6 669.4h2.5M1004.0 669.4h-2.5" stroke="#111" stroke-width="1.4"/>
<path d="M615.6 677.1h2.5M1004.0 677.1h-2.5" stroke="#111" stroke-width="1.4"/>
<path d="M615.6 686.3h2.5M1004.0 686.3h-2.5" stroke="#111" stroke-width="1.4"/>
<path d="M615.6 697.6h2.5M1004.0 697.6h-2.5" stroke="#111" stroke-width="1.4"/>
<path d="M615.6 712.1h2.5M1004.0 712.1h-2.5" stroke="#111" stroke-width="1.4"/>
<path d="M615.6 732.5h2.5M1004.0 732.5h-2.5" stroke="#111" stroke-width="1.4"/>
<text x="615.6" y="854.4" text-anchor="middle" class="t">0</text>
<text x="712.7" y="854.4" text-anchor="middle" class="t">500</text>
<text x="809.8" y="854.4" text-anchor="middle" class="t">1000</text>
<text x="906.9" y="854.4" text-anchor="middle" class="t">1500</text>
<text x="1004.0" y="854.4" text-anchor="middle" class="t">2000</text>
<text x="599.1" y="660.2" text-anchor="end" class="t">10</text>
<text x="609.4" y="644.6" text-anchor="end" class="s" style="font-size:15.5px">2</text>
<text x="806.8" y="884.5" text-anchor="middle" class="xl">Wavelength [nm]</text>
<g transform="translate(549.1,778.0) rotate(-90)"><text x="-1.6" y="0" style="font-size:23px" class="yl">μ</text><text x="17.5" y="12" style="font-size:17px" class="yl">s</text><text x="29" y="0" style="font-size:23px" class="yl">'</text><text x="38.6" y="0" style="font-size:23px" class="yl">[</text><text x="47" y="0" style="font-size:23px" class="yl">cm</text><text x="77.6" y="-11.5" style="font-size:17px" class="yl">-</text><text x="84.5" y="-11.5" style="font-size:17px" class="yl">1</text><text x="96.8" y="0" style="font-size:23px" class="yl">]</text></g>
<text x="189.5" y="946.6" class="xl">fatty tissue</text>
<g clip-path="url(#c30)">
<g fill="none" stroke="#e02020" stroke-width="1.35"><circle cx="165.2" cy="990.2" r="4.1"/><circle cx="171.5" cy="995.2" r="4.1"/><circle cx="177.8" cy="999.8" r="4.1"/><circle cx="184.1" cy="1003.6" r="4.1"/><circle cx="190.4" cy="1008.4" r="4.1"/><circle cx="196.7" cy="1013.3" r="4.1"/><circle cx="203.0" cy="1018.0" r="4.1"/><circle cx="209.3" cy="1022.5" r="4.1"/><circle cx="215.6" cy="1026.2" r="4.1"/><circle cx="221.9" cy="1029.6" r="4.1"/><circle cx="228.2" cy="1032.2" r="4.1"/><circle cx="234.5" cy="1034.5" r="4.1"/><circle cx="240.8" cy="1036.1" r="4.1"/><circle cx="247.1" cy="1037.7" r="4.1"/><circle cx="253.4" cy="1039.5" r="4.1"/><circle cx="259.7" cy="1041.2" r="4.1"/><circle cx="266.0" cy="1042.6" r="4.1"/><circle cx="272.3" cy="1043.9" r="4.1"/><circle cx="278.6" cy="1044.8" r="4.1"/><circle cx="284.9" cy="1045.6" r="4.1"/><circle cx="291.2" cy="1046.3" r="4.1"/><circle cx="297.5" cy="1046.9" r="4.1"/><circle cx="303.8" cy="1047.5" r="4.1"/><circle cx="310.1" cy="1048.1" r="4.1"/><circle cx="316.4" cy="1048.7" r="4.1"/><circle cx="322.7" cy="1049.3" r="4.1"/><circle cx="329.0" cy="1049.9" r="4.1"/><circle cx="335.3" cy="1050.4" r="4.1"/><circle cx="164.2" cy="1014.6" r="4.1"/><circle cx="168.6" cy="1018.6" r="4.1"/><circle cx="173.1" cy="1022.7" r="4.1"/><circle cx="177.6" cy="1026.6" r="4.1"/><circle cx="182.3" cy="1030.3" r="4.1"/><circle cx="187.3" cy="1033.6" r="4.1"/><circle cx="192.8" cy="1036.0" r="4.1"/><circle cx="198.3" cy="1038.4" r="4.1"/><circle cx="203.7" cy="1040.9" r="4.1"/><circle cx="209.1" cy="1043.6" r="4.1"/><circle cx="214.4" cy="1046.3" r="4.1"/><circle cx="219.8" cy="1049.0" r="4.1"/><circle cx="225.2" cy="1051.6" r="4.1"/><circle cx="230.8" cy="1053.9" r="4.1"/><circle cx="168.3" cy="1051.2" r="4.1"/><circle cx="172.6" cy="1052.5" r="4.1"/><circle cx="176.9" cy="1053.9" r="4.1"/><circle cx="181.2" cy="1055.2" r="4.1"/><circle cx="185.5" cy="1056.5" r="4.1"/><circle cx="189.8" cy="1057.8" r="4.1"/><circle cx="194.1" cy="1059.1" r="4.1"/><circle cx="198.4" cy="1060.4" r="4.1"/><circle cx="202.8" cy="1061.6" r="4.1"/><circle cx="207.2" cy="1062.5" r="4.1"/><circle cx="211.6" cy="1063.3" r="4.1"/><circle cx="216.0" cy="1064.2" r="4.1"/><circle cx="220.4" cy="1065.1" r="4.1"/><circle cx="224.9" cy="1065.8" r="4.1"/><circle cx="229.3" cy="1066.4" r="4.1"/><circle cx="233.8" cy="1067.0" r="4.1"/><circle cx="238.2" cy="1067.6" r="4.1"/><circle cx="242.7" cy="1068.2" r="4.1"/><circle cx="247.2" cy="1068.8" r="4.1"/><circle cx="251.6" cy="1069.4" r="4.1"/><circle cx="256.0" cy="1070.2" r="4.1"/><circle cx="260.5" cy="1071.1" r="4.1"/><circle cx="264.9" cy="1072.0" r="4.1"/><circle cx="269.3" cy="1072.9" r="4.1"/><circle cx="273.7" cy="1073.7" r="4.1"/><circle cx="278.1" cy="1074.5" r="4.1"/><circle cx="282.6" cy="1075.2" r="4.1"/><circle cx="287.0" cy="1076.0" r="4.1"/><circle cx="295.8" cy="1077.1" r="4.1"/><circle cx="305.6" cy="1078.8" r="4.1"/><circle cx="315.4" cy="1081.0" r="4.1"/><circle cx="325.2" cy="1082.9" r="4.1"/><circle cx="335.0" cy="1084.8" r="4.1"/><circle cx="345.0" cy="1085.7" r="4.1"/><circle cx="354.9" cy="1086.8" r="4.1"/><circle cx="364.9" cy="1087.8" r="4.1"/><circle cx="374.9" cy="1088.7" r="4.1"/><circle cx="384.7" cy="1090.6" r="4.1"/><circle cx="185.0" cy="1052.0" r="4.1"/><circle cx="189.8" cy="1053.4" r="4.1"/><circle cx="194.6" cy="1054.9" r="4.1"/><circle cx="199.4" cy="1056.3" r="4.1"/><circle cx="204.2" cy="1057.5" r="4.1"/><circle cx="209.1" cy="1058.4" r="4.1"/><circle cx="214.0" cy="1059.4" r="4.1"/><circle cx="218.9" cy="1060.4" r="4.1"/><circle cx="223.9" cy="1061.2" r="4.1"/><circle cx="228.8" cy="1061.9" r="4.1"/><circle cx="233.8" cy="1062.5" r="4.1"/><circle cx="238.7" cy="1063.2" r="4.1"/><circle cx="243.7" cy="1063.8" r="4.1"/><circle cx="248.7" cy="1064.5" r="4.1"/><circle cx="253.6" cy="1065.2" r="4.1"/><circle cx="258.5" cy="1066.2" r="4.1"/><circle cx="263.4" cy="1067.1" r="4.1"/><circle cx="268.3" cy="1068.1" r="4.1"/><circle cx="273.2" cy="1069.0" r="4.1"/><circle cx="278.2" cy="1069.7" r="4.1"/><circle cx="283.1" cy="1070.4" r="4.1"/><circle cx="288.1" cy="1071.1" r="4.1"/><circle cx="293.0" cy="1071.7" r="4.1"/><circle cx="200.0" cy="1064.0" r="4.1"/><circle cx="205.9" cy="1065.1" r="4.1"/><circle cx="211.8" cy="1066.1" r="4.1"/><circle cx="217.7" cy="1067.2" r="4.1"/><circle cx="223.6" cy="1068.2" r="4.1"/><circle cx="229.6" cy="1069.0" r="4.1"/><circle cx="235.5" cy="1069.8" r="4.1"/><circle cx="241.5" cy="1070.6" r="4.1"/><circle cx="247.4" cy="1071.4" r="4.1"/><circle cx="253.4" cy="1072.2" r="4.1"/><circle cx="259.3" cy="1073.0" r="4.1"/><circle cx="265.2" cy="1073.9" r="4.1"/><circle cx="271.2" cy="1074.7" r="4.1"/><circle cx="277.1" cy="1075.6" r="4.1"/><circle cx="197.7" cy="1072.6" r="4.1"/><circle cx="228.2" cy="1081.7" r="4.1"/><circle cx="266.9" cy="1084.7" r="4.1"/></g>
<path d="M131.6 1012.9 L132.1 1013.3 L132.6 1013.8 L133.1 1014.2 L133.6 1014.6 L134.1 1015.1 L134.6 1015.5 L135.2 1015.9 L135.7 1016.4 L136.3 1016.8 L136.8 1017.2 L137.4 1017.7 L137.9 1018.1 L138.5 1018.5 L139.1 1019.0 L139.7 1019.4 L140.3 1019.8 L140.9 1020.3 L141.5 1020.7 L142.2 1021.1 L142.8 1021.6 L143.4 1022.0 L144.1 1022.4 L144.7 1022.9 L145.4 1023.3 L146.1 1023.7 L146.8 1024.1 L147.4 1024.6 L148.1 1025.0 L148.9 1025.4 L149.6 1025.9 L150.3 1026.3 L151.0 1026.7 L151.8 1027.2 L152.5 1027.6 L153.3 1028.0 L154.1 1028.5 L154.9 1028.9 L155.7 1029.3 L156.5 1029.8 L157.3 1030.2 L158.1 1030.6 L159.0 1031.1 L159.8 1031.5 L160.7 1031.9 L161.5 1032.4 L162.4 1032.8 L163.3 1033.2 L164.2 1033.7 L165.2 1034.1 L166.1 1034.5 L167.0 1035.0 L168.0 1035.4 L168.9 1035.8 L169.9 1036.3 L170.9 1036.7 L171.9 1037.1 L172.9 1037.6 L174.0 1038.0 L175.0 1038.4 L176.1 1038.9 L177.2 1039.3 L178.2 1039.7 L179.3 1040.2 L180.5 1040.6 L181.6 1041.0 L182.7 1041.5 L183.9 1041.9 L185.1 1042.3 L186.2 1042.8 L187.5 1043.2 L188.7 1043.6 L189.9 1044.1 L191.2 1044.5 L192.4 1044.9 L193.7 1045.4 L195.0 1045.8 L196.3 1046.2 L197.7 1046.7 L199.0 1047.1 L200.4 1047.5 L201.8 1048.0 L203.2 1048.4 L204.6 1048.8 L206.1 1049.3 L207.5 1049.7 L209.0 1050.1 L210.5 1050.6 L212.0 1051.0 L213.6 1051.4 L215.1 1051.9 L216.7 1052.3 L218.3 1052.7 L219.9 1053.2 L221.6 1053.6 L223.2 1054.0 L224.9 1054.5 L226.6 1054.9 L228.3 1055.3 L230.1 1055.7 L231.9 1056.2 L233.7 1056.6 L235.5 1057.0 L237.3 1057.5 L239.2 1057.9 L241.1 1058.3 L243.0 1058.8 L245.0 1059.2 L246.9 1059.6 L248.9 1060.1 L250.9 1060.5 L253.0 1060.9 L255.0 1061.4 L257.1 1061.8 L259.3 1062.2 L261.4 1062.7 L263.6 1063.1 L265.8 1063.5 L268.1 1064.0 L270.3 1064.4 L272.6 1064.8 L274.9 1065.3 L277.3 1065.7 L279.7 1066.1 L282.1 1066.6 L284.6 1067.0 L287.0 1067.4 L289.5 1067.9 L292.1 1068.3 L294.7 1068.7 L297.3 1069.2 L299.9 1069.6 L302.6 1070.0 L305.3 1070.5 L308.1 1070.9 L310.9 1071.3 L313.7 1071.8 L316.6 1072.2 L319.4 1072.6 L322.4 1073.1 L325.4 1073.5 L328.4 1073.9 L331.4 1074.4 L334.5 1074.8 L337.6 1075.2 L340.8 1075.7 L344.0 1076.1 L347.3 1076.5 L350.6 1077.0 L353.9 1077.4 L357.3 1077.8 L360.7 1078.3 L364.2 1078.7 L367.7 1079.1 L371.3 1079.6 L374.9 1080.0 L378.5 1080.4 L382.2 1080.9 L386.0 1081.3 L389.8 1081.7 L393.6 1082.2 L397.5 1082.6 L401.5 1083.0 L405.5 1083.5 L409.5 1083.9 L413.6 1084.3 L417.8 1084.8 L422.0 1085.2 L426.3 1085.6 L430.6 1086.1 L435.0 1086.5 L439.4 1086.9 L443.9 1087.3 L448.4 1087.8 L453.1 1088.2 L457.7 1088.6 L462.5 1089.1 L467.2 1089.5 L472.1 1089.9 L477.0 1090.4 L482.0 1090.8" fill="none" stroke="#25e032" stroke-width="4"/>
<path d="M131.6 942.8 L132.1 945.0 L132.6 947.2 L133.1 949.3 L133.6 951.5 L134.1 953.6 L134.6 955.7 L135.2 957.8 L135.7 959.8 L136.3 961.9 L136.8 963.9 L137.4 965.9 L137.9 967.9 L138.5 969.8 L139.1 971.8 L139.7 973.7 L140.3 975.6 L140.9 977.5 L141.5 979.3 L142.2 981.2 L142.8 983.0 L143.4 984.8 L144.1 986.5 L144.7 988.3 L145.4 990.0 L146.1 991.6 L146.8 993.3 L147.4 994.9 L148.1 996.5 L148.9 998.1 L149.6 999.7 L150.3 1001.2 L151.0 1002.7 L151.8 1004.2 L152.5 1005.6 L153.3 1007.1 L154.1 1008.5 L154.9 1009.8 L155.7 1011.2 L156.5 1012.5 L157.3 1013.8 L158.1 1015.0 L159.0 1016.3 L159.8 1017.5 L160.7 1018.7 L161.5 1019.8 L162.4 1021.0 L163.3 1022.1 L164.2 1023.2 L165.2 1024.3 L166.1 1025.3 L167.0 1026.3 L168.0 1027.3 L168.9 1028.3 L169.9 1029.3 L170.9 1030.2 L171.9 1031.1 L172.9 1032.0 L174.0 1032.9 L175.0 1033.7 L176.1 1034.5 L177.2 1035.4 L178.2 1036.2 L179.3 1036.9 L180.5 1037.7 L181.6 1038.4 L182.7 1039.2 L183.9 1039.9 L185.1 1040.6 L186.2 1041.3 L187.5 1041.9 L188.7 1042.6 L189.9 1043.2 L191.2 1043.8 L192.4 1044.4 L193.7 1045.0 L195.0 1045.6 L196.3 1046.2 L197.7 1046.8 L199.0 1047.3 L200.4 1047.9 L201.8 1048.4 L203.2 1048.9 L204.6 1049.4 L206.1 1049.9 L207.5 1050.4 L209.0 1050.9 L210.5 1051.4 L212.0 1051.9 L213.6 1052.4 L215.1 1052.8 L216.7 1053.3 L218.3 1053.7 L219.9 1054.1 L221.6 1054.6 L223.2 1055.0 L224.9 1055.4 L226.6 1055.8 L228.3 1056.3 L230.1 1056.7 L231.9 1057.1 L233.7 1057.5 L235.5 1057.8 L237.3 1058.2 L239.2 1058.6 L241.1 1059.0 L243.0 1059.4 L245.0 1059.7 L246.9 1060.1 L248.9 1060.5 L250.9 1060.8 L253.0 1061.2 L255.0 1061.5 L257.1 1061.9 L259.3 1062.3 L261.4 1062.6 L263.6 1062.9 L265.8 1063.3 L268.1 1063.6 L270.3 1064.0 L272.6 1064.3 L274.9 1064.6 L277.3 1065.0 L279.7 1065.3 L282.1 1065.6 L284.6 1066.0 L287.0 1066.3 L289.5 1066.6 L292.1 1066.9 L294.7 1067.3 L297.3 1067.6 L299.9 1067.9 L302.6 1068.2 L305.3 1068.5 L308.1 1068.9 L310.9 1069.2 L313.7 1069.5 L316.6 1069.8 L319.4 1070.1 L322.4 1070.4 L325.4 1070.7 L328.4 1071.0 L331.4 1071.3 L334.5 1071.7 L337.6 1072.0 L340.8 1072.3 L344.0 1072.6 L347.3 1072.9 L350.6 1073.2 L353.9 1073.5 L357.3 1073.8 L360.7 1074.1 L364.2 1074.4 L367.7 1074.7 L371.3 1075.0 L374.9 1075.3 L378.5 1075.6 L382.2 1075.9 L386.0 1076.2 L389.8 1076.5 L393.6 1076.8 L397.5 1077.1 L401.5 1077.4 L405.5 1077.7 L409.5 1078.0 L413.6 1078.3 L417.8 1078.6 L422.0 1078.9 L426.3 1079.2 L430.6 1079.5 L435.0 1079.8 L439.4 1080.1 L443.9 1080.4 L448.4 1080.7 L453.1 1081.0 L457.7 1081.3 L462.5 1081.6 L467.2 1081.9 L472.1 1082.2 L477.0 1082.5 L482.0 1082.8" fill="none" stroke="#000" stroke-width="4.4"/>
<path d="M131.6 1030.1 L132.1 1030.4 L132.6 1030.7 L133.1 1031.0 L133.6 1031.3 L134.1 1031.6 L134.6 1031.9 L135.2 1032.2 L135.7 1032.5 L136.3 1032.8 L136.8 1033.1 L137.4 1033.4 L137.9 1033.7 L138.5 1033.9 L139.1 1034.2 L139.7 1034.5 L140.3 1034.8 L140.9 1035.1 L141.5 1035.4 L142.2 1035.7 L142.8 1036.0 L143.4 1036.3 L144.1 1036.6 L144.7 1036.9 L145.4 1037.2 L146.1 1037.5 L146.8 1037.7 L147.4 1038.0 L148.1 1038.3 L148.9 1038.6 L149.6 1038.9 L150.3 1039.2 L151.0 1039.5 L151.8 1039.8 L152.5 1040.1 L153.3 1040.4 L154.1 1040.7 L154.9 1041.0 L155.7 1041.3 L156.5 1041.6 L157.3 1041.8 L158.1 1042.1 L159.0 1042.4 L159.8 1042.7 L160.7 1043.0 L161.5 1043.3 L162.4 1043.6 L163.3 1043.9 L164.2 1044.2 L165.2 1044.5 L166.1 1044.8 L167.0 1045.1 L168.0 1045.4 L168.9 1045.7 L169.9 1045.9 L170.9 1046.2 L171.9 1046.5 L172.9 1046.8 L174.0 1047.1 L175.0 1047.4 L176.1 1047.7 L177.2 1048.0 L178.2 1048.3 L179.3 1048.6 L180.5 1048.9 L181.6 1049.2 L182.7 1049.5 L183.9 1049.7 L185.1 1050.0 L186.2 1050.3 L187.5 1050.6 L188.7 1050.9 L189.9 1051.2 L191.2 1051.5 L192.4 1051.8 L193.7 1052.1 L195.0 1052.4 L196.3 1052.7 L197.7 1053.0 L199.0 1053.3 L200.4 1053.6 L201.8 1053.8 L203.2 1054.1 L204.6 1054.4 L206.1 1054.7 L207.5 1055.0 L209.0 1055.3 L210.5 1055.6 L212.0 1055.9 L213.6 1056.2 L215.1 1056.5 L216.7 1056.8 L218.3 1057.1 L219.9 1057.4 L221.6 1057.6 L223.2 1057.9 L224.9 1058.2 L226.6 1058.5 L228.3 1058.8 L230.1 1059.1 L231.9 1059.4 L233.7 1059.7 L235.5 1060.0 L237.3 1060.3 L239.2 1060.6 L241.1 1060.9 L243.0 1061.2 L245.0 1061.5 L246.9 1061.7 L248.9 1062.0 L250.9 1062.3 L253.0 1062.6 L255.0 1062.9 L257.1 1063.2 L259.3 1063.5 L261.4 1063.8 L263.6 1064.1 L265.8 1064.4 L268.1 1064.7 L270.3 1065.0 L272.6 1065.3 L274.9 1065.6 L277.3 1065.8 L279.7 1066.1 L282.1 1066.4 L284.6 1066.7 L287.0 1067.0 L289.5 1067.3 L292.1 1067.6 L294.7 1067.9 L297.3 1068.2 L299.9 1068.5 L302.6 1068.8 L305.3 1069.1 L308.1 1069.4 L310.9 1069.6 L313.7 1069.9 L316.6 1070.2 L319.4 1070.5 L322.4 1070.8 L325.4 1071.1 L328.4 1071.4 L331.4 1071.7 L334.5 1072.0 L337.6 1072.3 L340.8 1072.6 L344.0 1072.9 L347.3 1073.2 L350.6 1073.5 L353.9 1073.7 L357.3 1074.0 L360.7 1074.3 L364.2 1074.6 L367.7 1074.9 L371.3 1075.2 L374.9 1075.5 L378.5 1075.8 L382.2 1076.1 L386.0 1076.4 L389.8 1076.7 L393.6 1077.0 L397.5 1077.3 L401.5 1077.6 L405.5 1077.8 L409.5 1078.1 L413.6 1078.4 L417.8 1078.7 L422.0 1079.0 L426.3 1079.3 L430.6 1079.6 L435.0 1079.9 L439.4 1080.2 L443.9 1080.5 L448.4 1080.8 L453.1 1081.1 L457.7 1081.4 L462.5 1081.6 L467.2 1081.9 L472.1 1082.2 L477.0 1082.5 L482.0 1082.8" fill="none" stroke="#000" stroke-width="4.6" stroke-dasharray="14 6"/>
<path d="M131.6 952.6 L132.1 955.2 L132.6 957.8 L133.1 960.4 L133.6 963.0 L134.1 965.6 L134.6 968.2 L135.2 970.8 L135.7 973.4 L136.3 976.0 L136.8 978.6 L137.4 981.2 L137.9 983.8 L138.5 986.4 L139.1 989.0 L139.7 991.6 L140.3 994.2 L140.9 996.8 L141.5 999.4 L142.2 1002.0 L142.8 1004.6 L143.4 1007.2 L144.1 1009.8 L144.7 1012.4 L145.4 1015.0 L146.1 1017.6 L146.8 1020.2 L147.4 1022.8 L148.1 1025.4 L148.9 1028.0 L149.6 1030.6 L150.3 1033.2 L151.0 1035.8 L151.8 1038.4 L152.5 1041.0 L153.3 1043.6 L154.1 1046.2 L154.9 1048.8 L155.7 1051.4 L156.5 1054.0 L157.3 1056.6 L158.1 1059.2 L159.0 1061.8 L159.8 1064.4 L160.7 1067.0 L161.5 1069.6 L162.4 1072.2 L163.3 1074.8 L164.2 1077.4 L165.2 1080.0 L166.1 1082.6 L167.0 1085.2 L168.0 1087.8 L168.9 1090.4 L169.9 1093.0 L170.9 1095.6 L171.9 1098.2 L172.9 1100.8 L174.0 1103.4 L175.0 1106.0 L176.1 1108.6 L177.2 1111.2 L178.2 1113.8 L179.3 1116.4 L180.5 1119.0 L181.6 1121.6 L182.7 1124.2 L183.9 1126.8 L185.1 1129.4 L186.2 1132.0 L187.5 1134.6 L188.7 1137.2 L189.9 1139.8 L191.2 1142.4 L192.4 1145.0 L193.7 1147.6 L195.0 1150.2 L196.3 1152.8 L197.7 1155.4 L199.0 1158.0 L200.4 1160.6 L201.8 1163.2 L203.2 1165.8 L204.6 1168.4 L206.1 1171.0 L207.5 1173.6 L209.0 1176.2 L210.5 1178.8 L212.0 1181.4 L213.6 1184.0 L215.1 1186.6 L216.7 1189.2 L218.3 1191.8 L219.9 1194.4 L221.6 1197.0 L223.2 1199.6 L224.9 1202.2 L226.6 1204.8 L228.3 1207.4 L230.1 1210.0 L231.9 1212.6 L233.7 1215.2 L235.5 1217.8 L237.3 1220.4 L239.2 1223.0 L241.1 1225.6 L243.0 1228.2 L245.0 1230.8 L246.9 1233.4 L248.9 1236.0 L250.9 1238.6 L253.0 1241.3 L255.0 1243.9 L257.1 1246.5 L259.3 1249.1 L261.4 1251.7 L263.6 1254.3 L265.8 1256.9 L268.1 1259.5 L270.3 1262.1 L272.6 1264.7 L274.9 1267.3 L277.3 1269.9 L279.7 1272.5 L282.1 1275.1 L284.6 1277.7 L287.0 1280.3 L289.5 1282.9 L292.1 1285.5 L294.7 1288.1 L297.3 1290.7 L299.9 1293.3 L302.6 1295.9 L305.3 1298.5 L308.1 1301.1 L310.9 1303.7 L313.7 1306.3 L316.6 1308.9 L319.4 1311.5 L322.4 1314.1 L325.4 1316.7 L328.4 1319.3 L331.4 1321.9 L334.5 1324.5 L337.6 1327.1 L340.8 1329.7 L344.0 1332.3 L347.3 1334.9 L350.6 1337.5 L353.9 1340.1 L357.3 1342.7 L360.7 1345.3 L364.2 1347.9 L367.7 1350.5 L371.3 1353.1 L374.9 1355.7 L378.5 1358.3 L382.2 1360.9 L386.0 1363.5 L389.8 1366.1 L393.6 1368.7 L397.5 1371.3 L401.5 1373.9 L405.5 1376.5 L409.5 1379.1 L413.6 1381.7 L417.8 1384.3 L422.0 1386.9 L426.3 1389.5 L430.6 1392.1 L435.0 1394.7 L439.4 1397.3 L443.9 1399.9 L448.4 1402.5 L453.1 1405.1 L457.7 1407.7 L462.5 1410.3 L467.2 1412.9 L472.1 1415.5 L477.0 1418.1 L482.0 1420.7" fill="none" stroke="#000" stroke-width="4.6" stroke-dasharray="14 6"/>
</g>
<rect x="93.5" y="924.0" width="388.5" height="210.4000000000001" fill="none" stroke="#222" stroke-width="1.5"/>
<path d="M190.6 1134.4v-3M190.6 924.0v3" stroke="#111" stroke-width="1.4"/>
<path d="M287.8 1134.4v-3M287.8 924.0v3" stroke="#111" stroke-width="1.4"/>
<path d="M384.9 1134.4v-3M384.9 924.0v3" stroke="#111" stroke-width="1.4"/>
<path d="M93.5 957.9h4M482.0 957.9h-4" stroke="#111" stroke-width="1.4"/>
<path d="M93.5 963.2h2.5M482.0 963.2h-2.5" stroke="#111" stroke-width="1.4"/>
<path d="M93.5 969.1h2.5M482.0 969.1h-2.5" stroke="#111" stroke-width="1.4"/>
<path d="M93.5 975.9h2.5M482.0 975.9h-2.5" stroke="#111" stroke-width="1.4"/>
<path d="M93.5 983.6h2.5M482.0 983.6h-2.5" stroke="#111" stroke-width="1.4"/>
<path d="M93.5 992.8h2.5M482.0 992.8h-2.5" stroke="#111" stroke-width="1.4"/>
<path d="M93.5 1004.1h2.5M482.0 1004.1h-2.5" stroke="#111" stroke-width="1.4"/>
<path d="M93.5 1018.6h2.5M482.0 1018.6h-2.5" stroke="#111" stroke-width="1.4"/>
<path d="M93.5 1039.0h2.5M482.0 1039.0h-2.5" stroke="#111" stroke-width="1.4"/>
<text x="93.5" y="1160.9" text-anchor="middle" class="t">0</text>
<text x="190.6" y="1160.9" text-anchor="middle" class="t">500</text>
<text x="287.8" y="1160.9" text-anchor="middle" class="t">1000</text>
<text x="384.9" y="1160.9" text-anchor="middle" class="t">1500</text>
<text x="482.0" y="1160.9" text-anchor="middle" class="t">2000</text>
<text x="77.0" y="966.7" text-anchor="end" class="t">10</text>
<text x="87.3" y="951.1" text-anchor="end" class="s" style="font-size:15.5px">2</text>
<text x="284.8" y="1191.0" text-anchor="middle" class="xl">Wavelength [nm]</text>
<g transform="translate(27.0,1084.5) rotate(-90)"><text x="-1.6" y="0" style="font-size:23px" class="yl">μ</text><text x="17.5" y="12" style="font-size:17px" class="yl">s</text><text x="29" y="0" style="font-size:23px" class="yl">'</text><text x="38.6" y="0" style="font-size:23px" class="yl">[</text><text x="47" y="0" style="font-size:23px" class="yl">cm</text><text x="77.6" y="-11.5" style="font-size:17px" class="yl">-</text><text x="84.5" y="-11.5" style="font-size:17px" class="yl">1</text><text x="96.8" y="0" style="font-size:23px" class="yl">]</text></g>
<text x="345" y="46.6" class="xl" style="fill:#e02020;stroke:#e02020;stroke-width:0.4px">exptl. data</text>
<text x="346" y="67.4" class="xl" style="stroke-width:0.4px;letter-spacing:-0.3px">Eq. 1</text>
<text x="346" y="87" class="xl" style="fill:#25e032;stroke:#25e032;stroke-width:0.4px;letter-spacing:-0.3px">Eq. 2</text>
</svg></body></html>
